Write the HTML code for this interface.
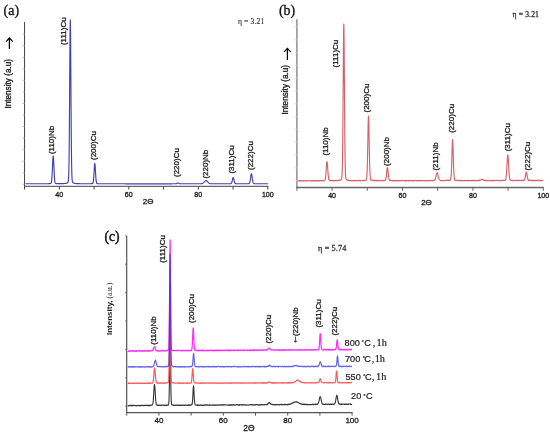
<!DOCTYPE html>
<html><head><meta charset="utf-8"><title>XRD patterns</title>
<style>
html,body{margin:0;padding:0;background:#fff;}
body{width:550px;height:435px;overflow:hidden;}
svg{display:block;}
</style></head>
<body>
<svg width="550" height="435" viewBox="0 0 550 435">
<rect width="550" height="435" fill="#fff"/>
<polyline points="25.55,183.79 25.80,183.79 26.05,183.79 26.30,183.79 26.55,183.79 26.80,183.79 27.05,183.79 27.30,183.79 27.55,183.79 27.80,183.79 28.05,183.79 28.30,183.79 28.55,183.79 28.80,183.79 29.05,183.79 29.30,183.79 29.55,183.79 29.80,183.79 30.05,183.79 30.30,183.79 30.55,183.79 30.80,183.79 31.05,183.79 31.30,183.79 31.55,183.79 31.80,183.79 32.05,183.79 32.30,183.79 32.55,183.79 32.80,183.79 33.05,183.79 33.30,183.79 33.55,183.79 33.80,183.79 34.05,183.79 34.30,183.79 34.55,183.79 34.80,183.79 35.05,183.79 35.30,183.79 35.55,183.79 35.80,183.79 36.05,183.79 36.30,183.79 36.55,183.78 36.80,183.78 37.05,183.78 37.30,183.78 37.55,183.78 37.80,183.78 38.05,183.78 38.30,183.78 38.55,183.78 38.80,183.78 39.05,183.78 39.30,183.78 39.55,183.78 39.80,183.78 40.05,183.78 40.30,183.78 40.55,183.78 40.80,183.78 41.05,183.78 41.30,183.78 41.55,183.77 41.80,183.77 42.05,183.77 42.30,183.77 42.55,183.77 42.80,183.77 43.05,183.77 43.30,183.77 43.55,183.77 43.80,183.76 44.05,183.76 44.30,183.76 44.55,183.76 44.80,183.76 45.05,183.76 45.30,183.75 45.55,183.75 45.80,183.75 46.05,183.75 46.30,183.74 46.55,183.74 46.80,183.74 47.05,183.73 47.30,183.73 47.55,183.72 47.80,183.72 48.05,183.71 48.30,183.70 48.55,183.69 48.80,183.68 49.05,183.67 49.30,183.65 49.55,183.64 49.80,183.61 50.05,183.59 50.30,183.55 50.55,183.49 50.80,183.37 51.05,183.10 51.30,182.53 51.55,181.36 51.80,179.21 52.05,175.76 52.30,170.96 52.55,165.34 52.80,160.04 53.05,156.59 53.20,155.97 53.30,156.25 53.55,159.15 53.80,164.20 54.05,169.87 54.30,174.89 54.55,178.62 54.80,181.01 55.05,182.34 55.30,183.01 55.55,183.31 55.80,183.45 56.05,183.52 56.30,183.56 56.55,183.58 56.80,183.60 57.05,183.62 57.30,183.63 57.55,183.64 57.80,183.65 58.05,183.66 58.30,183.66 58.55,183.67 58.80,183.67 59.05,183.67 59.30,183.68 59.55,183.68 59.80,183.68 60.05,183.68 60.30,183.67 60.55,183.67 60.80,183.67 61.05,183.67 61.30,183.66 61.55,183.66 61.80,183.65 62.05,183.65 62.30,183.64 62.55,183.63 62.80,183.63 63.05,183.62 63.30,183.61 63.55,183.59 63.80,183.58 64.05,183.56 64.30,183.55 64.55,183.53 64.80,183.50 65.05,183.48 65.30,183.45 65.55,183.41 65.80,183.37 66.05,183.32 66.30,183.27 66.55,183.20 66.80,183.11 67.05,183.01 67.30,182.88 67.55,182.72 67.80,182.48 68.05,182.06 68.30,181.13 68.55,178.79 68.80,173.10 69.05,160.87 69.30,138.69 69.55,105.62 69.80,66.60 70.05,33.30 70.30,19.89 70.55,33.30 70.80,66.60 71.05,105.62 71.30,138.69 71.55,160.87 71.80,173.10 72.05,178.79 72.30,181.13 72.55,182.06 72.80,182.48 73.05,182.72 73.30,182.89 73.55,183.02 73.80,183.12 74.05,183.20 74.30,183.27 74.55,183.33 74.80,183.38 75.05,183.42 75.30,183.45 75.55,183.49 75.80,183.51 76.05,183.54 76.30,183.56 76.55,183.57 76.80,183.59 77.05,183.61 77.30,183.62 77.55,183.63 77.80,183.64 78.05,183.65 78.30,183.66 78.55,183.67 78.80,183.67 79.05,183.68 79.30,183.69 79.55,183.69 79.80,183.70 80.05,183.70 80.30,183.71 80.55,183.71 80.80,183.71 81.05,183.72 81.30,183.72 81.55,183.72 81.80,183.72 82.05,183.73 82.30,183.73 82.55,183.73 82.80,183.73 83.05,183.74 83.30,183.74 83.55,183.74 83.80,183.74 84.05,183.74 84.30,183.74 84.55,183.74 84.80,183.74 85.05,183.74 85.30,183.75 85.55,183.75 85.80,183.75 86.05,183.75 86.30,183.75 86.55,183.75 86.80,183.75 87.05,183.75 87.30,183.75 87.55,183.74 87.80,183.74 88.05,183.74 88.30,183.74 88.55,183.74 88.80,183.74 89.05,183.73 89.30,183.73 89.55,183.73 89.80,183.72 90.05,183.72 90.30,183.71 90.55,183.71 90.80,183.70 91.05,183.69 91.30,183.68 91.55,183.66 91.80,183.64 92.05,183.62 92.30,183.57 92.55,183.47 92.80,183.26 93.05,182.76 93.30,181.72 93.55,179.79 93.80,176.74 94.05,172.66 94.30,168.24 94.55,164.67 94.80,163.28 95.05,164.67 95.30,168.24 95.55,172.66 95.80,176.74 96.05,179.79 96.30,181.72 96.55,182.76 96.80,183.26 97.05,183.48 97.30,183.58 97.55,183.62 97.80,183.65 98.05,183.67 98.30,183.69 98.55,183.70 98.80,183.71 99.05,183.72 99.30,183.73 99.55,183.73 99.80,183.74 100.05,183.74 100.30,183.75 100.55,183.75 100.80,183.75 101.05,183.76 101.30,183.76 101.55,183.76 101.80,183.76 102.05,183.77 102.30,183.77 102.55,183.77 102.80,183.77 103.05,183.77 103.30,183.77 103.55,183.77 103.80,183.78 104.05,183.78 104.30,183.78 104.55,183.78 104.80,183.78 105.05,183.78 105.30,183.78 105.55,183.78 105.80,183.78 106.05,183.78 106.30,183.78 106.55,183.78 106.80,183.78 107.05,183.78 107.30,183.78 107.55,183.78 107.80,183.79 108.05,183.79 108.30,183.79 108.55,183.79 108.80,183.79 109.05,183.79 109.30,183.79 109.55,183.79 109.80,183.79 110.05,183.79 110.30,183.79 110.55,183.79 110.80,183.79 111.05,183.79 111.30,183.79 111.55,183.79 111.80,183.79 112.05,183.79 112.30,183.79 112.55,183.79 112.80,183.79 113.05,183.79 113.30,183.79 113.55,183.79 113.80,183.79 114.05,183.79 114.30,183.79 114.55,183.79 114.80,183.79 115.05,183.79 115.30,183.79 115.55,183.79 115.80,183.79 116.05,183.79 116.30,183.79 116.55,183.79 116.80,183.79 117.05,183.79 117.30,183.79 117.55,183.79 117.80,183.79 118.05,183.79 118.30,183.79 118.55,183.79 118.80,183.79 119.05,183.79 119.30,183.79 119.55,183.79 119.80,183.79 120.05,183.79 120.30,183.79 120.55,183.79 120.80,183.79 121.05,183.79 121.30,183.79 121.55,183.79 121.80,183.79 122.05,183.79 122.30,183.79 122.55,183.79 122.80,183.79 123.05,183.79 123.30,183.79 123.55,183.79 123.80,183.79 124.05,183.79 124.30,183.79 124.55,183.79 124.80,183.79 125.05,183.79 125.30,183.80 125.55,183.80 125.80,183.80 126.05,183.80 126.30,183.80 126.55,183.80 126.80,183.80 127.05,183.80 127.30,183.80 127.55,183.80 127.80,183.80 128.05,183.80 128.30,183.80 128.55,183.80 128.80,183.80 129.05,183.80 129.30,183.80 129.55,183.80 129.80,183.80 130.05,183.80 130.30,183.80 130.55,183.80 130.80,183.80 131.05,183.80 131.30,183.80 131.55,183.80 131.80,183.80 132.05,183.80 132.30,183.80 132.55,183.80 132.80,183.80 133.05,183.80 133.30,183.80 133.55,183.80 133.80,183.80 134.05,183.80 134.30,183.80 134.55,183.80 134.80,183.80 135.05,183.80 135.30,183.80 135.55,183.80 135.80,183.80 136.05,183.80 136.30,183.80 136.55,183.80 136.80,183.80 137.05,183.80 137.30,183.80 137.55,183.80 137.80,183.80 138.05,183.80 138.30,183.80 138.55,183.80 138.80,183.80 139.05,183.80 139.30,183.80 139.55,183.80 139.80,183.80 140.05,183.80 140.30,183.80 140.55,183.80 140.80,183.80 141.05,183.80 141.30,183.80 141.55,183.80 141.80,183.80 142.05,183.80 142.30,183.80 142.55,183.80 142.80,183.80 143.05,183.80 143.30,183.80 143.55,183.80 143.80,183.80 144.05,183.80 144.30,183.80 144.55,183.80 144.80,183.80 145.05,183.80 145.30,183.80 145.55,183.80 145.80,183.80 146.05,183.80 146.30,183.80 146.55,183.80 146.80,183.80 147.05,183.80 147.30,183.80 147.55,183.80 147.80,183.80 148.05,183.80 148.30,183.80 148.55,183.80 148.80,183.80 149.05,183.80 149.30,183.80 149.55,183.80 149.80,183.80 150.05,183.80 150.30,183.80 150.55,183.80 150.80,183.80 151.05,183.80 151.30,183.80 151.55,183.80 151.80,183.80 152.05,183.80 152.30,183.80 152.55,183.80 152.80,183.80 153.05,183.80 153.30,183.80 153.55,183.80 153.80,183.80 154.05,183.80 154.30,183.80 154.55,183.80 154.80,183.80 155.05,183.80 155.30,183.80 155.55,183.80 155.80,183.80 156.05,183.80 156.30,183.80 156.55,183.80 156.80,183.80 157.05,183.80 157.30,183.80 157.55,183.80 157.80,183.80 158.05,183.80 158.30,183.80 158.55,183.80 158.80,183.80 159.05,183.80 159.30,183.80 159.55,183.80 159.80,183.80 160.05,183.80 160.30,183.80 160.55,183.80 160.80,183.80 161.05,183.80 161.30,183.80 161.55,183.80 161.80,183.80 162.05,183.80 162.30,183.80 162.55,183.80 162.80,183.80 163.05,183.80 163.30,183.80 163.55,183.80 163.80,183.80 164.05,183.80 164.30,183.80 164.55,183.80 164.80,183.80 165.05,183.80 165.30,183.80 165.55,183.80 165.80,183.80 166.05,183.80 166.30,183.80 166.55,183.80 166.80,183.80 167.05,183.80 167.30,183.80 167.55,183.80 167.80,183.80 168.05,183.80 168.30,183.80 168.55,183.80 168.80,183.80 169.05,183.80 169.30,183.80 169.55,183.80 169.80,183.80 170.05,183.80 170.30,183.80 170.55,183.80 170.80,183.80 171.05,183.80 171.30,183.80 171.55,183.80 171.80,183.80 172.05,183.80 172.30,183.80 172.55,183.79 172.80,183.79 173.05,183.79 173.30,183.79 173.55,183.79 173.80,183.79 174.05,183.79 174.30,183.79 174.55,183.79 174.80,183.79 175.05,183.79 175.30,183.78 175.55,183.77 175.80,183.76 176.05,183.73 176.30,183.68 176.55,183.60 176.80,183.50 177.05,183.37 177.30,183.23 177.55,183.10 177.80,183.02 178.00,183.00 178.05,183.00 178.30,183.05 178.55,183.15 178.80,183.29 179.05,183.42 179.30,183.54 179.55,183.64 179.80,183.70 180.05,183.74 180.30,183.77 180.55,183.78 180.80,183.78 181.05,183.79 181.30,183.79 181.55,183.79 181.80,183.79 182.05,183.79 182.30,183.79 182.55,183.79 182.80,183.79 183.05,183.79 183.30,183.79 183.55,183.79 183.80,183.79 184.05,183.79 184.30,183.79 184.55,183.79 184.80,183.79 185.05,183.79 185.30,183.79 185.55,183.79 185.80,183.79 186.05,183.79 186.30,183.79 186.55,183.79 186.80,183.79 187.05,183.79 187.30,183.79 187.55,183.79 187.80,183.79 188.05,183.79 188.30,183.79 188.55,183.79 188.80,183.79 189.05,183.79 189.30,183.79 189.55,183.79 189.80,183.79 190.05,183.79 190.30,183.79 190.55,183.79 190.80,183.79 191.05,183.79 191.30,183.79 191.55,183.79 191.80,183.79 192.05,183.79 192.30,183.79 192.55,183.79 192.80,183.79 193.05,183.79 193.30,183.79 193.55,183.79 193.80,183.79 194.05,183.79 194.30,183.79 194.55,183.79 194.80,183.79 195.05,183.79 195.30,183.79 195.55,183.79 195.80,183.79 196.05,183.79 196.30,183.79 196.55,183.78 196.80,183.78 197.05,183.78 197.30,183.78 197.55,183.78 197.80,183.78 198.05,183.78 198.30,183.78 198.55,183.78 198.80,183.77 199.05,183.77 199.30,183.77 199.55,183.77 199.80,183.76 200.05,183.76 200.30,183.75 200.55,183.74 200.80,183.73 201.05,183.71 201.30,183.69 201.55,183.65 201.80,183.60 202.05,183.54 202.30,183.46 202.55,183.35 202.80,183.22 203.05,183.06 203.30,182.87 203.55,182.65 203.80,182.41 204.05,182.14 204.30,181.87 204.55,181.59 204.80,181.32 205.05,181.07 205.30,180.87 205.55,180.71 205.80,180.62 206.00,180.60 206.05,180.60 206.30,180.65 206.55,180.77 206.80,180.94 207.05,181.17 207.30,181.42 207.55,181.70 207.80,181.98 208.05,182.25 208.30,182.51 208.55,182.74 208.80,182.95 209.05,183.13 209.30,183.28 209.55,183.40 209.80,183.49 210.05,183.57 210.30,183.62 210.55,183.67 210.80,183.70 211.05,183.72 211.30,183.74 211.55,183.75 211.80,183.76 212.05,183.76 212.30,183.77 212.55,183.77 212.80,183.77 213.05,183.77 213.30,183.77 213.55,183.78 213.80,183.78 214.05,183.78 214.30,183.78 214.55,183.78 214.80,183.78 215.05,183.78 215.30,183.78 215.55,183.78 215.80,183.78 216.05,183.78 216.30,183.79 216.55,183.79 216.80,183.79 217.05,183.79 217.30,183.79 217.55,183.79 217.80,183.79 218.05,183.79 218.30,183.79 218.55,183.79 218.80,183.79 219.05,183.79 219.30,183.79 219.55,183.79 219.80,183.79 220.05,183.79 220.30,183.79 220.55,183.79 220.80,183.79 221.05,183.79 221.30,183.79 221.55,183.79 221.80,183.79 222.05,183.79 222.30,183.79 222.55,183.79 222.80,183.79 223.05,183.79 223.30,183.79 223.55,183.79 223.80,183.79 224.05,183.79 224.30,183.79 224.55,183.79 224.80,183.79 225.05,183.79 225.30,183.79 225.55,183.79 225.80,183.78 226.05,183.78 226.30,183.78 226.55,183.78 226.80,183.78 227.05,183.78 227.30,183.78 227.55,183.78 227.80,183.78 228.05,183.77 228.30,183.77 228.55,183.77 228.80,183.77 229.05,183.76 229.30,183.76 229.55,183.76 229.80,183.75 230.05,183.74 230.30,183.73 230.55,183.70 230.80,183.64 231.05,183.53 231.30,183.32 231.55,182.95 231.80,182.36 232.05,181.52 232.30,180.47 232.55,179.34 232.80,178.33 233.05,177.71 233.20,177.60 233.30,177.64 233.55,178.17 233.80,179.12 234.05,180.25 234.30,181.33 234.55,182.21 234.80,182.85 235.05,183.26 235.30,183.50 235.55,183.63 235.80,183.69 236.05,183.72 236.30,183.74 236.55,183.75 236.80,183.75 237.05,183.76 237.30,183.76 237.55,183.77 237.80,183.77 238.05,183.77 238.30,183.77 238.55,183.77 238.80,183.78 239.05,183.78 239.30,183.78 239.55,183.78 239.80,183.78 240.05,183.78 240.30,183.78 240.55,183.78 240.80,183.78 241.05,183.78 241.30,183.78 241.55,183.78 241.80,183.78 242.05,183.78 242.30,183.78 242.55,183.78 242.80,183.78 243.05,183.78 243.30,183.78 243.55,183.78 243.80,183.78 244.05,183.78 244.30,183.78 244.55,183.78 244.80,183.77 245.05,183.77 245.30,183.77 245.55,183.77 245.80,183.77 246.05,183.76 246.30,183.76 246.55,183.76 246.80,183.75 247.05,183.75 247.30,183.74 247.55,183.74 247.80,183.73 248.05,183.72 248.30,183.70 248.55,183.68 248.80,183.63 249.05,183.52 249.30,183.31 249.55,182.92 249.80,182.25 250.05,181.19 250.30,179.74 250.55,177.96 250.80,176.11 251.05,174.54 251.30,173.68 251.40,173.60 251.55,173.78 251.80,174.81 252.05,176.47 252.30,178.33 252.55,180.06 252.80,181.44 253.05,182.41 253.30,183.02 253.55,183.37 253.80,183.55 254.05,183.64 254.30,183.68 254.55,183.71 254.80,183.72 255.05,183.73 255.30,183.74 255.55,183.75 255.80,183.75 256.05,183.76 256.30,183.76 256.55,183.76 256.80,183.77 257.05,183.77 257.30,183.77 257.55,183.77 257.80,183.78 258.05,183.78 258.30,183.78 258.55,183.78 258.80,183.78 259.05,183.78 259.30,183.78 259.55,183.78 259.80,183.79 260.05,183.79 260.30,183.79 260.55,183.79 260.80,183.79 261.05,183.79 261.30,183.79 261.55,183.79 261.80,183.79 262.05,183.79 262.30,183.79 262.55,183.79 262.80,183.79 263.05,183.79 263.30,183.79 263.55,183.79 263.80,183.79 264.05,183.79 264.30,183.79 264.55,183.79 264.80,183.79 265.05,183.79 265.30,183.79 265.55,183.79 265.80,183.79 266.05,183.79 266.30,183.79 266.55,183.79 266.80,183.79 267.05,183.80 267.30,183.80 267.55,183.80 267.80,183.80" fill="none" stroke="#4040b4" stroke-width="1.15" stroke-linejoin="round" />
<line x1="24.55" y1="22" x2="24.55" y2="186.8" stroke="#444" stroke-width="1"/>
<line x1="24.05" y1="186.3" x2="268.3" y2="186.3" stroke="#444" stroke-width="1"/>
<line x1="24.55" y1="186.3" x2="24.55" y2="189.5" stroke="#444" stroke-width="1"/>
<line x1="59.3" y1="186.3" x2="59.3" y2="189.5" stroke="#444" stroke-width="1"/>
<line x1="94.05" y1="186.3" x2="94.05" y2="189.5" stroke="#444" stroke-width="1"/>
<line x1="128.8" y1="186.3" x2="128.8" y2="189.5" stroke="#444" stroke-width="1"/>
<line x1="163.55" y1="186.3" x2="163.55" y2="189.5" stroke="#444" stroke-width="1"/>
<line x1="198.3" y1="186.3" x2="198.3" y2="189.5" stroke="#444" stroke-width="1"/>
<line x1="233.05" y1="186.3" x2="233.05" y2="189.5" stroke="#444" stroke-width="1"/>
<line x1="267.8" y1="186.3" x2="267.8" y2="189.5" stroke="#444" stroke-width="1"/>
<line x1="22.55" y1="184.3" x2="24.55" y2="184.3" stroke="#aaa" stroke-width="0.8"/>
<line x1="22.55" y1="172.75" x2="24.55" y2="172.75" stroke="#aaa" stroke-width="0.8"/>
<line x1="22.55" y1="161.20000000000002" x2="24.55" y2="161.20000000000002" stroke="#aaa" stroke-width="0.8"/>
<line x1="22.55" y1="149.65" x2="24.55" y2="149.65" stroke="#aaa" stroke-width="0.8"/>
<line x1="22.55" y1="138.10000000000002" x2="24.55" y2="138.10000000000002" stroke="#aaa" stroke-width="0.8"/>
<line x1="22.55" y1="126.55000000000001" x2="24.55" y2="126.55000000000001" stroke="#aaa" stroke-width="0.8"/>
<line x1="22.55" y1="115.0" x2="24.55" y2="115.0" stroke="#aaa" stroke-width="0.8"/>
<line x1="22.55" y1="103.45" x2="24.55" y2="103.45" stroke="#aaa" stroke-width="0.8"/>
<line x1="22.55" y1="91.9" x2="24.55" y2="91.9" stroke="#aaa" stroke-width="0.8"/>
<line x1="22.55" y1="80.35000000000001" x2="24.55" y2="80.35000000000001" stroke="#aaa" stroke-width="0.8"/>
<line x1="22.55" y1="68.80000000000001" x2="24.55" y2="68.80000000000001" stroke="#aaa" stroke-width="0.8"/>
<line x1="22.55" y1="57.25" x2="24.55" y2="57.25" stroke="#aaa" stroke-width="0.8"/>
<line x1="22.55" y1="45.69999999999999" x2="24.55" y2="45.69999999999999" stroke="#aaa" stroke-width="0.8"/>
<line x1="22.55" y1="34.150000000000006" x2="24.55" y2="34.150000000000006" stroke="#aaa" stroke-width="0.8"/>
<text x="59.3" y="196.9" font-family="'Liberation Sans', Arial, sans-serif" font-size="7.1" text-anchor="middle" fill="#1a1a1a" font-weight="normal" stroke="#1a1a1a" stroke-width="0.3" >40</text>
<text x="128.8" y="196.9" font-family="'Liberation Sans', Arial, sans-serif" font-size="7.1" text-anchor="middle" fill="#1a1a1a" font-weight="normal" stroke="#1a1a1a" stroke-width="0.3" >60</text>
<text x="198.3" y="196.9" font-family="'Liberation Sans', Arial, sans-serif" font-size="7.1" text-anchor="middle" fill="#1a1a1a" font-weight="normal" stroke="#1a1a1a" stroke-width="0.3" >80</text>
<text x="267.8" y="196.9" font-family="'Liberation Sans', Arial, sans-serif" font-size="7.1" text-anchor="middle" fill="#1a1a1a" font-weight="normal" stroke="#1a1a1a" stroke-width="0.3" >100</text>
<text x="148.2" y="203.6" font-family="'Liberation Sans', Arial, sans-serif" font-size="8.0" text-anchor="middle" fill="#1a1a1a" font-weight="normal" stroke="#1a1a1a" stroke-width="0.3" >2Θ</text>
<text x="11.3" y="15.4" font-family="'Liberation Serif', 'Times New Roman', serif" font-size="14" text-anchor="middle" fill="#111" font-weight="normal" stroke="#111" stroke-width="0.3" >(a)</text>
<text x="251.2" y="23.7" font-family="'Liberation Serif', 'Times New Roman', serif" font-size="7.6" text-anchor="middle" fill="#333" font-weight="normal" stroke="#333" stroke-width="0.15" letter-spacing="0.15">η = 3.21</text>
<text transform="translate(10.99,108.60) rotate(-90)" font-family="'Liberation Sans', Arial, sans-serif" font-size="8.2" fill="#1a1a1a" font-weight="normal" stroke="#1a1a1a" stroke-width="0.3">Intensity (a.u)</text>
<path d="M9.4,38.2 V48.9 M6.1,41.6 L9.4,37.9 L12.7,41.6" fill="none" stroke="#000" stroke-width="1.25"/>
<text transform="translate(53.96,154.10) rotate(-90)" font-family="'Liberation Sans', Arial, sans-serif" font-size="8.0" fill="#1a1a1a" font-weight="normal" stroke="#1a1a1a" stroke-width="0.3">(110)Nb</text>
<text transform="translate(66.16,45.10) rotate(-90)" font-family="'Liberation Sans', Arial, sans-serif" font-size="8.0" fill="#1a1a1a" font-weight="normal" stroke="#1a1a1a" stroke-width="0.3">(111)Cu</text>
<text transform="translate(96.46,160.00) rotate(-90)" font-family="'Liberation Sans', Arial, sans-serif" font-size="8.0" fill="#1a1a1a" font-weight="normal" stroke="#1a1a1a" stroke-width="0.3">(200)Cu</text>
<text transform="translate(179.36,177.00) rotate(-90)" font-family="'Liberation Sans', Arial, sans-serif" font-size="8.0" fill="#1a1a1a" font-weight="normal" stroke="#1a1a1a" stroke-width="0.3">(220)Cu</text>
<text transform="translate(208.36,178.60) rotate(-90)" font-family="'Liberation Sans', Arial, sans-serif" font-size="8.0" fill="#1a1a1a" font-weight="normal" stroke="#1a1a1a" stroke-width="0.3">(220)Nb</text>
<text transform="translate(233.96,173.60) rotate(-90)" font-family="'Liberation Sans', Arial, sans-serif" font-size="8.0" fill="#1a1a1a" font-weight="normal" stroke="#1a1a1a" stroke-width="0.3">(311)Cu</text>
<text transform="translate(253.36,170.00) rotate(-90)" font-family="'Liberation Sans', Arial, sans-serif" font-size="8.0" fill="#1a1a1a" font-weight="normal" stroke="#1a1a1a" stroke-width="0.3">(222)Cu</text>
<polyline points="297.90,180.66 298.15,180.81 298.40,180.73 298.65,180.84 298.90,180.85 299.15,180.57 299.40,180.55 299.65,180.96 299.90,180.67 300.15,180.66 300.40,181.04 300.65,180.77 300.90,180.96 301.15,180.78 301.40,180.86 301.65,180.61 301.90,180.85 302.15,180.97 302.40,180.80 302.65,180.91 302.90,180.87 303.15,180.57 303.40,180.91 303.65,180.83 303.90,180.68 304.15,180.55 304.40,180.96 304.65,180.77 304.90,180.89 305.15,180.97 305.40,180.89 305.65,180.99 305.90,180.73 306.15,180.93 306.40,180.75 306.65,181.00 306.90,180.97 307.15,180.58 307.40,180.59 307.65,180.63 307.90,181.01 308.15,180.74 308.40,180.84 308.65,180.67 308.90,180.78 309.15,180.72 309.40,180.70 309.65,180.81 309.90,180.81 310.15,180.97 310.40,180.86 310.65,180.98 310.90,180.95 311.15,181.01 311.40,180.85 311.65,180.60 311.90,180.95 312.15,181.00 312.40,180.97 312.65,180.80 312.90,180.87 313.15,180.62 313.40,180.93 313.65,180.80 313.90,180.65 314.15,180.54 314.40,180.94 314.65,181.00 314.90,180.55 315.15,180.91 315.40,180.71 315.65,180.58 315.90,180.65 316.15,180.89 316.40,180.94 316.65,180.52 316.90,180.80 317.15,180.52 317.40,180.85 317.65,180.66 317.90,180.93 318.15,180.98 318.40,180.74 318.65,180.99 318.90,180.64 319.15,180.52 319.40,180.78 319.65,180.49 319.90,180.57 320.15,180.68 320.40,180.77 320.65,180.54 320.90,180.48 321.15,180.89 321.40,180.61 321.65,180.93 321.90,180.89 322.15,180.62 322.40,180.66 322.65,180.68 322.90,180.73 323.15,180.70 323.40,180.66 323.65,180.68 323.90,180.81 324.15,180.56 324.40,180.45 324.65,180.46 324.90,179.92 325.15,179.36 325.40,178.61 325.65,176.58 325.90,173.94 326.15,170.29 326.40,166.84 326.65,163.76 326.90,161.69 327.00,161.82 327.15,162.21 327.40,164.04 327.65,167.65 327.90,171.23 328.15,174.59 328.40,176.90 328.65,178.73 328.90,179.71 329.15,179.87 329.40,180.14 329.65,180.56 329.90,180.76 330.15,180.44 330.40,180.56 330.65,180.64 330.90,180.52 331.15,180.55 331.40,180.53 331.65,180.56 331.90,180.68 332.15,180.53 332.40,180.57 332.65,180.77 332.90,180.40 333.15,180.67 333.40,180.75 333.65,180.54 333.90,180.49 334.15,180.78 334.40,180.49 334.65,180.46 334.90,180.58 335.15,180.71 335.40,180.40 335.65,180.51 335.90,180.51 336.15,180.75 336.40,180.54 336.65,180.74 336.90,180.38 337.15,180.45 337.40,180.60 337.65,180.70 337.90,180.46 338.15,180.32 338.40,180.25 338.65,180.42 338.90,180.22 339.15,180.49 339.40,180.46 339.65,180.08 339.90,180.06 340.15,180.25 340.40,180.08 340.65,180.04 340.90,179.67 341.15,179.36 341.40,179.12 341.65,178.70 341.90,176.85 342.15,173.04 342.40,164.58 342.65,148.34 342.90,122.23 343.15,88.12 343.40,52.45 343.65,28.10 343.80,24.11 343.90,26.08 344.15,46.71 344.40,80.55 344.65,116.14 344.90,144.18 345.15,161.95 345.40,172.00 345.65,176.60 345.90,178.42 346.15,179.13 346.40,179.38 346.65,179.62 346.90,179.72 347.15,179.76 347.40,180.12 347.65,180.04 347.90,180.37 348.15,180.04 348.40,180.52 348.65,180.45 348.90,180.60 349.15,180.62 349.40,180.64 349.65,180.51 349.90,180.24 350.15,180.63 350.40,180.36 350.65,180.43 350.90,180.63 351.15,180.57 351.40,180.52 351.65,180.79 351.90,180.64 352.15,180.51 352.40,180.47 352.65,180.78 352.90,180.59 353.15,180.75 353.40,180.54 353.65,180.47 353.90,180.64 354.15,180.78 354.40,180.46 354.65,180.78 354.90,180.84 355.15,180.79 355.40,180.80 355.65,180.39 355.90,180.70 356.15,180.82 356.40,180.42 356.65,180.53 356.90,180.53 357.15,180.66 357.40,180.60 357.65,180.63 357.90,180.78 358.15,180.39 358.40,180.42 358.65,180.45 358.90,180.45 359.15,180.42 359.40,180.87 359.65,180.81 359.90,180.42 360.15,180.63 360.40,180.53 360.65,180.53 360.90,180.54 361.15,180.69 361.40,180.65 361.65,180.53 361.90,180.44 362.15,180.50 362.40,180.39 362.65,180.60 362.90,180.67 363.15,180.49 363.40,180.33 363.65,180.36 363.90,180.44 364.15,180.53 364.40,180.60 364.65,180.37 364.90,180.54 365.15,180.41 365.40,180.25 365.65,180.15 365.90,180.09 366.15,179.97 366.40,179.34 366.65,178.33 366.90,175.73 367.15,170.76 367.40,162.71 367.65,151.03 367.90,136.77 368.15,124.05 368.40,116.47 368.50,115.97 368.65,117.63 368.90,126.31 369.15,140.01 369.40,153.68 369.65,164.51 369.90,172.08 370.15,176.21 370.40,178.70 370.65,179.59 370.90,180.12 371.15,180.27 371.40,180.31 371.65,180.41 371.90,180.38 372.15,180.20 372.40,180.47 372.65,180.21 372.90,180.31 373.15,180.64 373.40,180.29 373.65,180.33 373.90,180.35 374.15,180.75 374.40,180.41 374.65,180.34 374.90,180.76 375.15,180.41 375.40,180.77 375.65,180.69 375.90,180.78 376.15,180.84 376.40,180.66 376.65,180.77 376.90,180.39 377.15,180.76 377.40,180.64 377.65,180.74 377.90,180.44 378.15,180.76 378.40,180.85 378.65,180.42 378.90,180.55 379.15,180.67 379.40,180.80 379.65,180.51 379.90,180.48 380.15,180.52 380.40,180.70 380.65,180.77 380.90,180.59 381.15,180.57 381.40,180.58 381.65,180.56 381.90,180.59 382.15,180.42 382.40,180.63 382.65,180.86 382.90,180.58 383.15,180.74 383.40,180.44 383.65,180.69 383.90,180.72 384.15,180.66 384.40,180.57 384.65,180.52 384.90,180.54 385.15,180.54 385.40,179.90 385.65,179.35 385.90,178.75 386.15,177.37 386.40,175.13 386.65,172.65 386.90,170.35 387.15,168.23 387.40,167.57 387.65,168.23 387.90,170.28 388.15,172.59 388.40,174.99 388.65,177.25 388.90,178.85 389.15,179.45 389.40,180.18 389.65,180.30 389.90,180.64 390.15,180.57 390.40,180.44 390.65,180.44 390.90,180.35 391.15,180.59 391.40,180.55 391.65,180.45 391.90,180.55 392.15,180.54 392.40,180.77 392.65,180.46 392.90,180.88 393.15,180.63 393.40,180.69 393.65,180.63 393.90,180.81 394.15,180.81 394.40,180.68 394.65,180.64 394.90,180.76 395.15,180.83 395.40,180.60 395.65,180.77 395.90,180.89 396.15,180.64 396.40,180.52 396.65,180.52 396.90,180.77 397.15,180.75 397.40,180.89 397.65,180.83 397.90,180.53 398.15,180.50 398.40,180.54 398.65,180.50 398.90,180.76 399.15,180.84 399.40,180.86 399.65,180.54 399.90,180.84 400.15,180.57 400.40,180.62 400.65,180.77 400.90,180.45 401.15,180.46 401.40,180.83 401.65,180.55 401.90,180.59 402.15,180.70 402.40,180.75 402.65,180.41 402.90,180.58 403.15,180.63 403.40,180.65 403.65,180.51 403.90,180.70 404.15,180.89 404.40,180.60 404.65,180.68 404.90,180.47 405.15,180.54 405.40,180.74 405.65,180.46 405.90,180.85 406.15,180.86 406.40,180.45 406.65,180.88 406.90,180.59 407.15,180.79 407.40,180.78 407.65,180.55 407.90,180.74 408.15,180.73 408.40,180.81 408.65,180.54 408.90,180.78 409.15,180.88 409.40,180.74 409.65,180.67 409.90,180.46 410.15,180.65 410.40,180.58 410.65,180.76 410.90,180.74 411.15,180.68 411.40,180.49 411.65,180.72 411.90,180.72 412.15,180.49 412.40,180.85 412.65,180.73 412.90,180.46 413.15,180.87 413.40,180.47 413.65,180.56 413.90,180.76 414.15,180.70 414.40,180.68 414.65,180.72 414.90,180.63 415.15,180.55 415.40,180.48 415.65,180.43 415.90,180.75 416.15,180.77 416.40,180.67 416.65,180.76 416.90,180.57 417.15,180.53 417.40,180.59 417.65,180.83 417.90,180.41 418.15,180.64 418.40,180.52 418.65,180.78 418.90,180.57 419.15,180.56 419.40,180.59 419.65,180.66 419.90,180.78 420.15,180.57 420.40,180.81 420.65,180.44 420.90,180.52 421.15,180.44 421.40,180.44 421.65,180.78 421.90,180.75 422.15,180.48 422.40,180.48 422.65,180.59 422.90,180.76 423.15,180.79 423.40,180.76 423.65,180.68 423.90,180.46 424.15,180.58 424.40,180.48 424.65,180.64 424.90,180.66 425.15,180.48 425.40,180.50 425.65,180.77 425.90,180.39 426.15,180.78 426.40,180.82 426.65,180.85 426.90,180.56 427.15,180.65 427.40,180.66 427.65,180.69 427.90,180.86 428.15,180.71 428.40,180.52 428.65,180.80 428.90,180.61 429.15,180.66 429.40,180.72 429.65,180.36 429.90,180.74 430.15,180.69 430.40,180.60 430.65,180.61 430.90,180.58 431.15,180.44 431.40,180.61 431.65,180.36 431.90,180.59 432.15,180.65 432.40,180.55 432.65,180.60 432.90,180.79 433.15,180.75 433.40,180.35 433.65,180.66 433.90,180.53 434.15,180.17 434.40,180.20 434.65,179.92 434.90,179.51 435.15,179.24 435.40,178.74 435.65,177.54 435.90,176.74 436.15,175.48 436.40,174.05 436.65,173.45 436.90,172.70 437.10,172.70 437.15,172.60 437.40,172.96 437.65,173.54 437.90,174.83 438.15,176.06 438.40,177.18 438.65,177.97 438.90,178.95 439.15,179.43 439.40,179.67 439.65,179.91 439.90,180.10 440.15,180.26 440.40,180.30 440.65,180.50 440.90,180.62 441.15,180.55 441.40,180.50 441.65,180.62 441.90,180.45 442.15,180.54 442.40,180.68 442.65,180.51 442.90,180.40 443.15,180.76 443.40,180.67 443.65,180.49 443.90,180.50 444.15,180.57 444.40,180.61 444.65,180.42 444.90,180.31 445.15,180.41 445.40,180.69 445.65,180.37 445.90,180.52 446.15,180.39 446.40,180.39 446.65,180.37 446.90,180.48 447.15,180.35 447.40,180.27 447.65,180.30 447.90,180.32 448.15,180.47 448.40,180.24 448.65,180.20 448.90,180.40 449.15,180.35 449.40,180.46 449.65,180.10 449.90,180.21 450.15,180.10 450.40,179.69 450.65,179.65 450.90,178.11 451.15,175.67 451.40,171.59 451.65,164.88 451.90,156.69 452.15,147.85 452.40,141.31 452.60,139.47 452.65,139.92 452.90,143.50 453.15,151.43 453.40,160.13 453.65,168.16 453.90,173.47 454.15,176.89 454.40,178.71 454.65,179.83 454.90,180.10 455.15,180.12 455.40,180.08 455.65,180.43 455.90,180.61 456.15,180.45 456.40,180.18 456.65,180.21 456.90,180.26 457.15,180.31 457.40,180.26 457.65,180.28 457.90,180.58 458.15,180.72 458.40,180.37 458.65,180.76 458.90,180.52 459.15,180.69 459.40,180.75 459.65,180.76 459.90,180.32 460.15,180.45 460.40,180.61 460.65,180.78 460.90,180.35 461.15,180.46 461.40,180.74 461.65,180.37 461.90,180.51 462.15,180.48 462.40,180.66 462.65,180.78 462.90,180.41 463.15,180.69 463.40,180.69 463.65,180.74 463.90,180.60 464.15,180.78 464.40,180.50 464.65,180.53 464.90,180.44 465.15,180.71 465.40,180.56 465.65,180.46 465.90,180.41 466.15,180.69 466.40,180.63 466.65,180.68 466.90,180.52 467.15,180.57 467.40,180.40 467.65,180.68 467.90,180.34 468.15,180.56 468.40,180.70 468.65,180.66 468.90,180.37 469.15,180.44 469.40,180.75 469.65,180.65 469.90,180.76 470.15,180.76 470.40,180.55 470.65,180.77 470.90,180.69 471.15,180.49 471.40,180.51 471.65,180.36 471.90,180.52 472.15,180.80 472.40,180.38 472.65,180.61 472.90,180.38 473.15,180.36 473.40,180.65 473.65,180.44 473.90,180.35 474.15,180.40 474.40,180.64 474.65,180.61 474.90,180.32 475.15,180.43 475.40,180.80 475.65,180.43 475.90,180.60 476.15,180.52 476.40,180.70 476.65,180.62 476.90,180.71 477.15,180.58 477.40,180.40 477.65,180.39 477.90,180.34 478.15,180.70 478.40,180.34 478.65,180.27 478.90,180.72 479.15,180.30 479.40,180.59 479.65,180.12 479.90,180.21 480.15,179.98 480.40,180.15 480.65,179.90 480.90,179.77 481.15,179.68 481.40,179.62 481.65,179.26 481.90,179.35 482.00,179.26 482.15,179.11 482.40,179.52 482.65,179.50 482.90,179.73 483.15,179.57 483.40,179.89 483.65,179.99 483.90,180.25 484.15,180.03 484.40,180.26 484.65,180.39 484.90,180.24 485.15,180.51 485.40,180.63 485.65,180.49 485.90,180.61 486.15,180.59 486.40,180.40 486.65,180.47 486.90,180.80 487.15,180.47 487.40,180.51 487.65,180.34 487.90,180.41 488.15,180.38 488.40,180.77 488.65,180.66 488.90,180.74 489.15,180.79 489.40,180.61 489.65,180.77 489.90,180.57 490.15,180.51 490.40,180.77 490.65,180.75 490.90,180.77 491.15,180.54 491.40,180.68 491.65,180.50 491.90,180.80 492.15,180.76 492.40,180.44 492.65,180.76 492.90,180.39 493.15,180.34 493.40,180.66 493.65,180.44 493.90,180.55 494.15,180.61 494.40,180.31 494.65,180.66 494.90,180.43 495.15,180.51 495.40,180.46 495.65,180.66 495.90,180.66 496.15,180.43 496.40,180.34 496.65,180.43 496.90,180.49 497.15,180.32 497.40,180.36 497.65,180.66 497.90,180.63 498.15,180.76 498.40,180.76 498.65,180.71 498.90,180.46 499.15,180.35 499.40,180.42 499.65,180.50 499.90,180.53 500.15,180.53 500.40,180.44 500.65,180.68 500.90,180.39 501.15,180.48 501.40,180.69 501.65,180.64 501.90,180.38 502.15,180.35 502.40,180.62 502.65,180.22 502.90,180.27 503.15,180.46 503.40,180.45 503.65,180.25 503.90,180.18 504.15,180.23 504.40,180.49 504.65,180.30 504.90,180.50 505.15,180.29 505.40,180.16 505.65,179.23 505.90,178.43 506.15,176.81 506.40,174.58 506.65,171.06 506.90,166.58 507.15,162.13 507.40,157.75 507.65,155.26 507.80,154.77 507.90,155.25 508.15,157.23 508.40,161.08 508.65,165.64 508.90,170.29 509.15,174.06 509.40,176.73 509.65,178.54 509.90,179.47 510.15,179.72 510.40,179.92 510.65,180.36 510.90,180.44 511.15,180.34 511.40,180.53 511.65,180.41 511.90,180.29 512.15,180.25 512.40,180.19 512.65,180.51 512.90,180.64 513.15,180.66 513.40,180.44 513.65,180.55 513.90,180.68 514.15,180.63 514.40,180.53 514.65,180.44 514.90,180.49 515.15,180.32 515.40,180.33 515.65,180.58 515.90,180.74 516.15,180.52 516.40,180.45 516.65,180.42 516.90,180.47 517.15,180.65 517.40,180.47 517.65,180.73 517.90,180.32 518.15,180.40 518.40,180.51 518.65,180.45 518.90,180.67 519.15,180.66 519.40,180.71 519.65,180.55 519.90,180.26 520.15,180.53 520.40,180.52 520.65,180.48 520.90,180.38 521.15,180.59 521.40,180.69 521.65,180.28 521.90,180.56 522.15,180.41 522.40,180.47 522.65,180.66 522.90,180.68 523.15,180.51 523.40,180.27 523.65,180.60 523.90,180.15 524.15,180.11 524.40,180.05 524.65,179.30 524.90,178.50 525.15,177.73 525.40,176.33 525.65,174.51 525.90,173.22 526.15,172.33 526.30,172.11 526.40,172.23 526.65,173.29 526.90,174.10 527.15,175.67 527.40,177.09 527.65,178.20 527.90,179.27 528.15,179.93 528.40,180.29 528.65,180.36 528.90,180.53 529.15,180.17 529.40,180.33 529.65,180.68 529.90,180.24 530.15,180.35 530.40,180.46 530.65,180.36 530.90,180.50 531.15,180.25 531.40,180.35 531.65,180.71 531.90,180.31 532.15,180.69 532.40,180.33 532.65,180.74 532.90,180.58 533.15,180.57 533.40,180.31 533.65,180.27 533.90,180.62 534.15,180.33 534.40,180.34 534.65,180.66 534.90,180.68 535.15,180.27 535.40,180.73 535.65,180.51 535.90,180.44 536.15,180.30 536.40,180.44 536.65,180.74 536.90,180.39 537.15,180.31 537.40,180.32 537.65,180.31 537.90,180.42 538.15,180.70 538.40,180.29 538.65,180.34 538.90,180.72 539.15,180.75 539.40,180.74 539.65,180.37 539.90,180.42 540.15,180.72 540.40,180.49 540.65,180.60 540.90,180.40 541.15,180.26 541.40,180.42 541.65,180.62 541.90,180.64 542.15,180.53 542.40,180.48 542.65,180.51 542.90,180.47 543.15,180.51" fill="none" stroke="#d9606a" stroke-width="1.15" stroke-linejoin="round" />
<line x1="296.9" y1="19.2" x2="296.9" y2="188.0" stroke="#888" stroke-width="1.4"/>
<line x1="296.4" y1="187.5" x2="543.8" y2="187.5" stroke="#666" stroke-width="1.3"/>
<line x1="296.9" y1="187.5" x2="296.9" y2="190.7" stroke="#666" stroke-width="1"/>
<line x1="332.09999999999997" y1="187.5" x2="332.09999999999997" y2="190.7" stroke="#666" stroke-width="1"/>
<line x1="367.29999999999995" y1="187.5" x2="367.29999999999995" y2="190.7" stroke="#666" stroke-width="1"/>
<line x1="402.5" y1="187.5" x2="402.5" y2="190.7" stroke="#666" stroke-width="1"/>
<line x1="437.7" y1="187.5" x2="437.7" y2="190.7" stroke="#666" stroke-width="1"/>
<line x1="472.9" y1="187.5" x2="472.9" y2="190.7" stroke="#666" stroke-width="1"/>
<line x1="508.09999999999997" y1="187.5" x2="508.09999999999997" y2="190.7" stroke="#666" stroke-width="1"/>
<line x1="543.3" y1="187.5" x2="543.3" y2="190.7" stroke="#666" stroke-width="1"/>
<line x1="294.9" y1="180.6" x2="296.9" y2="180.6" stroke="#d0d0d0" stroke-width="0.8"/>
<line x1="294.9" y1="167.79999999999998" x2="296.9" y2="167.79999999999998" stroke="#d0d0d0" stroke-width="0.8"/>
<line x1="294.9" y1="155.0" x2="296.9" y2="155.0" stroke="#d0d0d0" stroke-width="0.8"/>
<line x1="294.9" y1="142.2" x2="296.9" y2="142.2" stroke="#d0d0d0" stroke-width="0.8"/>
<line x1="294.9" y1="129.39999999999998" x2="296.9" y2="129.39999999999998" stroke="#d0d0d0" stroke-width="0.8"/>
<line x1="294.9" y1="116.6" x2="296.9" y2="116.6" stroke="#d0d0d0" stroke-width="0.8"/>
<line x1="294.9" y1="103.79999999999998" x2="296.9" y2="103.79999999999998" stroke="#d0d0d0" stroke-width="0.8"/>
<line x1="294.9" y1="90.99999999999999" x2="296.9" y2="90.99999999999999" stroke="#d0d0d0" stroke-width="0.8"/>
<line x1="294.9" y1="78.19999999999999" x2="296.9" y2="78.19999999999999" stroke="#d0d0d0" stroke-width="0.8"/>
<line x1="294.9" y1="65.39999999999999" x2="296.9" y2="65.39999999999999" stroke="#d0d0d0" stroke-width="0.8"/>
<line x1="294.9" y1="52.599999999999994" x2="296.9" y2="52.599999999999994" stroke="#d0d0d0" stroke-width="0.8"/>
<line x1="294.9" y1="39.79999999999998" x2="296.9" y2="39.79999999999998" stroke="#d0d0d0" stroke-width="0.8"/>
<line x1="294.9" y1="26.99999999999997" x2="296.9" y2="26.99999999999997" stroke="#d0d0d0" stroke-width="0.8"/>
<text x="332.09999999999997" y="197.8" font-family="'Liberation Sans', Arial, sans-serif" font-size="7.1" text-anchor="middle" fill="#1a1a1a" font-weight="normal" stroke="#1a1a1a" stroke-width="0.3" >40</text>
<text x="402.5" y="197.8" font-family="'Liberation Sans', Arial, sans-serif" font-size="7.1" text-anchor="middle" fill="#1a1a1a" font-weight="normal" stroke="#1a1a1a" stroke-width="0.3" >60</text>
<text x="472.9" y="197.8" font-family="'Liberation Sans', Arial, sans-serif" font-size="7.1" text-anchor="middle" fill="#1a1a1a" font-weight="normal" stroke="#1a1a1a" stroke-width="0.3" >80</text>
<text x="543.3" y="197.8" font-family="'Liberation Sans', Arial, sans-serif" font-size="7.1" text-anchor="middle" fill="#1a1a1a" font-weight="normal" stroke="#1a1a1a" stroke-width="0.3" >100</text>
<text x="426.5" y="204.9" font-family="'Liberation Sans', Arial, sans-serif" font-size="8.0" text-anchor="middle" fill="#1a1a1a" font-weight="normal" stroke="#1a1a1a" stroke-width="0.3" >2Θ</text>
<text x="287.1" y="15.3" font-family="'Liberation Serif', 'Times New Roman', serif" font-size="14" text-anchor="middle" fill="#111" font-weight="normal" stroke="#111" stroke-width="0.3" >(b)</text>
<text x="525.8" y="16.8" font-family="'Liberation Serif', 'Times New Roman', serif" font-size="7.6" text-anchor="middle" fill="#333" font-weight="normal" stroke="#333" stroke-width="0.3" letter-spacing="0.15">η = 3.21</text>
<text transform="translate(288.19,114.50) rotate(-90)" font-family="'Liberation Sans', Arial, sans-serif" font-size="8.2" fill="#1a1a1a" font-weight="normal" stroke="#1a1a1a" stroke-width="0.3">Intensity (a.u)</text>
<path d="M287.4,48.8 V59.9 M284.2,51.9 L287.4,48.4 L290.7,51.9" fill="none" stroke="#000" stroke-width="1.25"/>
<text transform="translate(328.36,155.60) rotate(-90)" font-family="'Liberation Sans', Arial, sans-serif" font-size="8.0" fill="#1a1a1a" font-weight="normal" stroke="#1a1a1a" stroke-width="0.3">(110)Nb</text>
<text transform="translate(338.36,67.40) rotate(-90)" font-family="'Liberation Sans', Arial, sans-serif" font-size="8.0" fill="#1a1a1a" font-weight="normal" stroke="#1a1a1a" stroke-width="0.3">(111)Cu</text>
<text transform="translate(369.26,112.50) rotate(-90)" font-family="'Liberation Sans', Arial, sans-serif" font-size="8.0" fill="#1a1a1a" font-weight="normal" stroke="#1a1a1a" stroke-width="0.3">(200)Cu</text>
<text transform="translate(389.16,165.90) rotate(-90)" font-family="'Liberation Sans', Arial, sans-serif" font-size="8.0" fill="#1a1a1a" font-weight="normal" stroke="#1a1a1a" stroke-width="0.3">(200)Nb</text>
<text transform="translate(438.46,170.60) rotate(-90)" font-family="'Liberation Sans', Arial, sans-serif" font-size="8.0" fill="#1a1a1a" font-weight="normal" stroke="#1a1a1a" stroke-width="0.3">(211)Nb</text>
<text transform="translate(454.46,132.80) rotate(-90)" font-family="'Liberation Sans', Arial, sans-serif" font-size="8.0" fill="#1a1a1a" font-weight="normal" stroke="#1a1a1a" stroke-width="0.3">(220)Cu</text>
<text transform="translate(509.66,151.30) rotate(-90)" font-family="'Liberation Sans', Arial, sans-serif" font-size="8.0" fill="#1a1a1a" font-weight="normal" stroke="#1a1a1a" stroke-width="0.3">(311)Cu</text>
<text transform="translate(529.86,170.60) rotate(-90)" font-family="'Liberation Sans', Arial, sans-serif" font-size="8.0" fill="#1a1a1a" font-weight="normal" stroke="#1a1a1a" stroke-width="0.3">(222)Cu</text>
<polyline points="127.70,405.57 127.95,405.63 128.20,405.85 128.45,405.57 128.70,405.59 128.95,405.64 129.20,405.40 129.45,405.59 129.70,405.66 129.95,405.76 130.20,405.34 130.45,405.46 130.70,405.33 130.95,405.76 131.20,405.69 131.45,405.30 131.70,405.86 131.95,405.85 132.20,405.66 132.45,405.63 132.70,405.36 132.95,405.27 133.20,405.58 133.45,405.29 133.70,405.37 133.95,405.40 134.20,405.27 134.45,405.53 134.70,405.51 134.95,405.75 135.20,405.56 135.45,405.63 135.70,405.54 135.95,405.64 136.20,405.51 136.45,405.41 136.70,405.84 136.95,405.83 137.20,405.74 137.45,405.66 137.70,405.42 137.95,405.37 138.20,405.40 138.45,405.27 138.70,405.68 138.95,405.46 139.20,405.73 139.45,405.45 139.70,405.79 139.95,405.72 140.20,405.21 140.45,405.34 140.70,405.75 140.95,405.49 141.20,405.79 141.45,405.44 141.70,405.24 141.95,405.58 142.20,405.66 142.45,405.36 142.70,405.24 142.95,405.39 143.20,405.77 143.45,405.64 143.70,405.25 143.95,405.33 144.20,405.24 144.45,405.21 144.70,405.65 144.95,405.28 145.20,405.51 145.45,405.44 145.70,405.28 145.95,405.60 146.20,405.24 146.45,405.54 146.70,405.22 146.95,405.40 147.20,405.27 147.45,405.30 147.70,405.72 147.95,405.62 148.20,405.31 148.45,405.66 148.70,405.25 148.95,405.35 149.20,405.62 149.45,405.49 149.70,405.15 149.95,405.68 150.20,405.20 150.45,405.22 150.70,405.51 150.95,405.23 151.20,405.19 151.45,405.04 151.70,405.01 151.95,405.24 152.20,404.91 152.45,404.85 152.70,404.13 152.95,403.03 153.20,401.34 153.45,398.02 153.70,394.11 153.95,390.00 154.20,386.00 154.45,384.24 154.50,384.64 154.70,385.40 154.95,388.04 155.20,392.15 155.45,396.66 155.70,400.22 155.95,402.17 156.20,404.08 156.45,404.81 156.70,405.01 156.95,405.07 157.20,404.96 157.45,404.96 157.70,405.54 157.95,405.12 158.20,405.41 158.45,405.15 158.70,405.50 158.95,405.37 159.20,405.19 159.45,405.13 159.70,405.46 159.95,405.07 160.20,405.17 160.45,405.37 160.70,405.54 160.95,405.40 161.20,405.20 161.45,405.58 161.70,405.15 161.95,405.04 162.20,405.19 162.45,405.29 162.70,405.06 162.95,405.12 163.20,405.24 163.45,405.35 163.70,405.09 163.95,405.22 164.20,405.53 164.45,405.58 164.70,405.38 164.95,405.39 165.20,405.32 165.45,405.04 165.70,404.97 165.95,404.94 166.20,405.46 166.45,405.32 166.70,405.45 166.95,404.86 167.20,405.19 167.45,405.05 167.70,405.14 167.95,404.82 168.20,405.10 168.45,404.29 168.70,403.78 168.95,401.30 169.20,394.27 169.45,379.65 169.70,359.05 169.95,341.68 170.10,338.24 170.20,339.49 170.45,354.87 170.70,375.93 170.95,391.98 171.20,400.14 171.45,403.60 171.70,404.65 171.95,404.79 172.20,404.96 172.45,404.89 172.70,405.07 172.95,405.13 173.20,404.85 173.45,405.21 173.70,405.45 173.95,405.40 174.20,405.32 174.45,405.13 174.70,405.35 174.95,405.26 175.20,405.18 175.45,405.43 175.70,404.98 175.95,405.38 176.20,404.95 176.45,405.30 176.70,405.23 176.95,405.08 177.20,405.36 177.45,405.24 177.70,405.32 177.95,405.50 178.20,405.10 178.45,404.95 178.70,405.13 178.95,405.35 179.20,405.07 179.45,405.05 179.70,405.49 179.95,405.34 180.20,405.21 180.45,405.48 180.70,405.14 180.95,405.34 181.20,405.06 181.45,405.20 181.70,405.42 181.95,405.49 182.20,405.47 182.45,405.17 182.70,405.28 182.95,405.12 183.20,405.01 183.45,405.23 183.70,405.43 183.95,405.44 184.20,405.35 184.45,405.49 184.70,405.09 184.95,405.02 185.20,405.19 185.45,405.08 185.70,405.04 185.95,405.16 186.20,405.29 186.45,405.20 186.70,405.09 186.95,405.41 187.20,405.49 187.45,405.17 187.70,404.94 187.95,404.91 188.20,405.41 188.45,404.91 188.70,405.30 188.95,405.21 189.20,405.05 189.45,405.33 189.70,404.86 189.95,404.92 190.20,405.10 190.45,404.83 190.70,405.30 190.95,404.92 191.20,404.84 191.45,404.73 191.70,404.96 191.95,404.53 192.20,403.79 192.45,401.89 192.70,398.50 192.95,393.71 193.20,388.64 193.45,385.70 193.50,385.78 193.70,386.88 193.95,391.06 194.20,396.46 194.45,400.72 194.70,402.90 194.95,404.16 195.20,404.68 195.45,405.06 195.70,405.02 195.95,405.11 196.20,405.22 196.45,405.01 196.70,405.26 196.95,405.34 197.20,404.86 197.45,405.37 197.70,405.25 197.95,404.90 198.20,405.09 198.45,405.20 198.70,405.37 198.95,405.05 199.20,405.17 199.45,405.35 199.70,405.30 199.95,405.39 200.20,405.10 200.45,405.22 200.70,404.95 200.95,405.26 201.20,405.32 201.45,405.21 201.70,405.25 201.95,404.95 202.20,405.36 202.45,405.41 202.70,405.41 202.95,405.14 203.20,405.29 203.45,405.01 203.70,405.36 203.95,405.33 204.20,405.02 204.45,404.86 204.70,405.07 204.95,405.14 205.20,405.27 205.45,405.10 205.70,404.82 205.95,405.29 206.20,404.84 206.45,405.28 206.70,404.90 206.95,405.00 207.20,405.27 207.45,404.88 207.70,404.88 207.95,405.10 208.20,405.23 208.45,405.29 208.70,405.20 208.95,405.35 209.20,405.08 209.45,405.35 209.70,404.83 209.95,404.91 210.20,405.10 210.45,404.95 210.70,405.21 210.95,405.16 211.20,405.09 211.45,405.28 211.70,405.11 211.95,404.96 212.20,405.00 212.45,405.27 212.70,405.31 212.95,404.89 213.20,405.27 213.45,405.34 213.70,405.07 213.95,405.10 214.20,404.88 214.45,405.08 214.70,405.06 214.95,405.11 215.20,404.77 215.45,405.33 215.70,405.06 215.95,404.99 216.20,405.22 216.45,405.08 216.70,405.04 216.95,405.15 217.20,404.78 217.45,405.06 217.70,404.98 217.95,405.31 218.20,405.29 218.45,404.89 218.70,405.01 218.95,404.80 219.20,404.99 219.45,405.21 219.70,405.26 219.95,405.01 220.20,404.91 220.45,404.83 220.70,405.09 220.95,405.27 221.20,404.79 221.45,405.18 221.70,404.72 221.95,404.83 222.20,404.84 222.45,405.12 222.70,404.90 222.95,404.92 223.20,405.07 223.45,404.76 223.70,405.14 223.95,404.77 224.20,405.00 224.45,404.84 224.70,404.81 224.95,405.01 225.20,404.95 225.45,404.91 225.70,404.93 225.95,405.00 226.20,404.78 226.45,404.80 226.70,405.06 226.95,405.06 227.20,404.99 227.45,405.19 227.70,405.04 227.95,405.19 228.20,404.81 228.45,405.11 228.70,405.15 228.95,405.21 229.20,404.85 229.45,404.85 229.70,405.21 229.95,404.79 230.20,405.26 230.45,405.19 230.70,404.74 230.95,404.80 231.20,405.09 231.45,404.81 231.70,404.71 231.95,405.15 232.20,404.90 232.45,405.12 232.70,404.72 232.95,404.88 233.20,405.05 233.45,404.65 233.70,404.76 233.95,405.04 234.20,405.18 234.45,405.21 234.70,404.70 234.95,404.93 235.20,405.08 235.45,404.93 235.70,405.04 235.95,404.74 236.20,404.66 236.45,404.68 236.70,404.64 236.95,404.95 237.20,404.92 237.45,404.95 237.70,404.70 237.95,404.72 238.20,404.73 238.45,405.11 238.70,405.20 238.95,405.16 239.20,404.66 239.45,404.64 239.70,405.17 239.95,404.87 240.20,405.05 240.45,404.79 240.70,404.87 240.95,404.90 241.20,404.85 241.45,404.95 241.70,404.59 241.95,405.01 242.20,405.09 242.45,404.69 242.70,404.85 242.95,405.02 243.20,404.82 243.45,404.69 243.70,404.67 243.95,404.88 244.20,404.58 244.45,405.10 244.70,405.05 244.95,404.99 245.20,405.08 245.45,404.94 245.70,404.80 245.95,404.92 246.20,404.86 246.45,405.15 246.70,405.04 246.95,404.71 247.20,405.10 247.45,405.00 247.70,405.01 247.95,405.04 248.20,404.79 248.45,405.08 248.70,405.07 248.95,404.96 249.20,405.00 249.45,405.00 249.70,404.78 249.95,404.97 250.20,404.57 250.45,404.74 250.70,404.81 250.95,404.53 251.20,404.74 251.45,404.91 251.70,404.90 251.95,404.66 252.20,405.09 252.45,404.92 252.70,404.72 252.95,404.91 253.20,404.85 253.45,404.83 253.70,404.74 253.95,405.11 254.20,404.89 254.45,404.93 254.70,404.96 254.95,405.09 255.20,404.51 255.45,404.87 255.70,404.94 255.95,404.65 256.20,404.73 256.45,404.52 256.70,404.61 256.95,404.71 257.20,404.55 257.45,404.64 257.70,405.03 257.95,404.81 258.20,404.78 258.45,405.06 258.70,404.82 258.95,405.07 259.20,404.86 259.45,404.96 259.70,404.52 259.95,404.83 260.20,404.92 260.45,404.49 260.70,405.02 260.95,404.56 261.20,404.74 261.45,404.56 261.70,404.75 261.95,404.82 262.20,404.49 262.45,405.02 262.70,404.70 262.95,404.76 263.20,404.80 263.45,404.66 263.70,404.61 263.95,404.83 264.20,404.77 264.45,404.60 264.70,404.86 264.95,404.60 265.20,404.43 265.45,404.56 265.70,404.43 265.95,404.48 266.20,404.82 266.45,404.56 266.70,404.80 266.95,404.62 267.20,404.07 267.45,404.45 267.70,404.20 267.95,403.41 268.20,403.61 268.45,403.03 268.70,402.81 268.95,402.94 269.20,402.44 269.45,402.67 269.70,403.08 269.95,403.20 270.20,403.33 270.45,403.93 270.70,404.10 270.95,404.20 271.20,404.08 271.45,404.52 271.70,404.51 271.95,404.41 272.20,404.36 272.45,404.66 272.70,404.43 272.95,404.63 273.20,404.77 273.45,404.64 273.70,404.52 273.95,404.72 274.20,404.62 274.45,404.83 274.70,404.68 274.95,404.96 275.20,404.93 275.45,404.80 275.70,404.50 275.95,404.43 276.20,404.89 276.45,404.83 276.70,404.73 276.95,404.57 277.20,404.51 277.45,404.76 277.70,404.69 277.95,404.70 278.20,404.73 278.45,404.80 278.70,404.46 278.95,404.49 279.20,404.93 279.45,404.89 279.70,404.86 279.95,404.36 280.20,404.37 280.45,404.49 280.70,404.58 280.95,404.70 281.20,404.39 281.45,404.65 281.70,404.36 281.95,404.37 282.20,404.72 282.45,404.64 282.70,404.69 282.95,404.53 283.20,404.59 283.45,404.43 283.70,404.51 283.95,404.75 284.20,404.80 284.45,404.34 284.70,404.36 284.95,404.77 285.20,404.66 285.45,404.74 285.70,404.40 285.95,404.52 286.20,404.42 286.45,404.74 286.70,404.47 286.95,404.63 287.20,404.82 287.45,404.41 287.70,404.52 287.95,404.62 288.20,404.71 288.45,404.38 288.70,404.32 288.95,404.12 289.20,404.54 289.45,404.02 289.70,403.97 289.95,404.19 290.20,404.08 290.45,404.12 290.70,403.80 290.95,404.00 291.20,403.47 291.45,403.45 291.70,403.60 291.95,403.13 292.20,403.13 292.45,403.25 292.70,403.09 292.95,402.71 293.20,402.48 293.45,402.48 293.70,402.57 293.95,402.22 294.20,401.96 294.45,402.21 294.70,402.03 294.95,402.17 295.20,402.12 295.45,402.07 295.70,401.76 295.80,401.98 295.95,401.68 296.20,401.71 296.45,401.80 296.70,402.18 296.95,402.23 297.20,401.94 297.45,402.11 297.70,402.22 297.95,402.35 298.20,402.50 298.45,402.62 298.70,402.65 298.95,403.00 299.20,403.28 299.45,403.25 299.70,403.56 299.95,403.51 300.20,403.39 300.45,403.85 300.70,404.02 300.95,403.75 301.20,403.67 301.45,404.04 301.70,404.12 301.95,404.19 302.20,404.48 302.45,404.33 302.70,404.46 302.95,404.05 303.20,404.37 303.45,404.53 303.70,404.13 303.95,404.14 304.20,404.55 304.45,404.66 304.70,404.18 304.95,404.51 305.20,404.22 305.45,404.59 305.70,404.53 305.95,404.29 306.20,404.28 306.45,404.61 306.70,404.46 306.95,404.61 307.20,404.38 307.45,404.35 307.70,404.73 307.95,404.55 308.20,404.44 308.45,404.47 308.70,404.58 308.95,404.57 309.20,404.69 309.45,404.39 309.70,404.63 309.95,404.54 310.20,404.65 310.45,404.62 310.70,404.63 310.95,404.66 311.20,404.70 311.45,404.51 311.70,404.44 311.95,404.55 312.20,404.60 312.45,404.37 312.70,404.37 312.95,404.20 313.20,404.56 313.45,404.70 313.70,404.33 313.95,404.20 314.20,404.22 314.45,404.35 314.70,404.27 314.95,404.67 315.20,404.12 315.45,404.26 315.70,404.14 315.95,404.46 316.20,404.52 316.45,404.16 316.70,404.07 316.95,404.29 317.20,404.33 317.45,404.45 317.70,403.81 317.95,403.64 318.20,403.33 318.45,402.81 318.70,402.06 318.95,401.36 319.20,400.12 319.45,398.68 319.70,397.56 319.95,396.84 320.20,396.49 320.45,397.13 320.70,397.63 320.95,398.87 321.20,400.24 321.45,401.20 321.70,402.06 321.95,403.19 322.20,403.75 322.45,403.75 322.70,404.08 322.95,404.45 323.20,404.23 323.45,404.11 323.70,404.02 323.95,404.57 324.20,404.49 324.45,404.24 324.70,404.33 324.95,404.33 325.20,404.19 325.45,404.62 325.70,404.42 325.95,404.17 326.20,404.03 326.45,404.31 326.70,404.25 326.95,404.50 327.20,404.45 327.45,404.39 327.70,404.12 327.95,404.11 328.20,404.21 328.45,404.17 328.70,404.54 328.95,404.32 329.20,404.40 329.45,404.61 329.70,404.17 329.95,404.33 330.20,404.09 330.45,404.46 330.70,404.00 330.95,404.49 331.20,404.50 331.45,404.48 331.70,404.03 331.95,404.14 332.20,404.40 332.45,404.03 332.70,404.25 332.95,404.24 333.20,404.52 333.45,404.28 333.70,404.43 333.95,404.06 334.20,404.29 334.45,403.94 334.70,404.01 334.95,403.11 335.20,402.89 335.45,401.54 335.70,400.46 335.95,398.94 336.20,397.20 336.45,396.34 336.70,395.35 336.80,395.28 336.95,395.28 337.20,396.24 337.45,397.67 337.70,399.36 337.95,400.61 338.20,402.04 338.45,402.59 338.70,403.37 338.95,403.77 339.20,404.28 339.45,404.30 339.70,404.25 339.95,403.89 340.20,404.12 340.45,404.33 340.70,404.05 340.95,404.26 341.20,404.20 341.45,403.93 341.70,404.52 341.95,404.41 342.20,404.05 342.45,404.30 342.70,404.10 342.95,404.16 343.20,404.25 343.45,404.11 343.70,404.13 343.95,404.17 344.20,404.33 344.45,404.08 344.70,404.05 344.95,404.37 345.20,404.13 345.45,404.49 345.70,404.26 345.95,404.36 346.20,404.12 346.45,404.42 346.70,403.98 346.95,404.01 347.20,403.98 347.45,404.33 347.70,404.34 347.95,404.02 348.20,404.16 348.45,404.42 348.70,404.27 348.95,403.97 349.20,404.05 349.45,404.00 349.70,403.98 349.95,404.15 350.20,403.95 350.45,404.46 350.70,404.16 350.95,404.21 351.20,404.29 351.45,404.36 351.70,404.39 351.95,404.13" fill="none" stroke="#333" stroke-width="1.1" stroke-linejoin="round" />
<polyline points="127.70,383.28 127.95,383.23 128.20,383.11 128.45,383.48 128.70,383.05 128.95,383.29 129.20,383.49 129.45,383.08 129.70,383.32 129.95,383.35 130.20,383.06 130.45,383.23 130.70,383.39 130.95,383.26 131.20,383.40 131.45,383.11 131.70,383.15 131.95,383.09 132.20,383.29 132.45,383.49 132.70,383.33 132.95,383.42 133.20,383.22 133.45,383.40 133.70,383.08 133.95,383.17 134.20,383.36 134.45,383.39 134.70,383.24 134.95,383.07 135.20,383.16 135.45,383.13 135.70,383.16 135.95,383.43 136.20,383.12 136.45,383.46 136.70,383.46 136.95,383.05 137.20,383.21 137.45,383.26 137.70,383.03 137.95,383.23 138.20,383.47 138.45,383.07 138.70,383.31 138.95,383.07 139.20,383.30 139.45,383.46 139.70,383.11 139.95,383.01 140.20,383.05 140.45,383.28 140.70,383.02 140.95,383.05 141.20,383.25 141.45,383.46 141.70,383.21 141.95,383.20 142.20,383.32 142.45,383.05 142.70,383.29 142.95,383.08 143.20,383.30 143.45,383.47 143.70,383.02 143.95,383.27 144.20,383.30 144.45,383.07 144.70,383.12 144.95,383.49 145.20,383.49 145.45,383.05 145.70,383.34 145.95,383.46 146.20,383.10 146.45,383.29 146.70,383.00 146.95,383.16 147.20,383.31 147.45,383.27 147.70,383.36 147.95,383.01 148.20,383.14 148.45,383.39 148.70,383.25 148.95,383.18 149.20,383.15 149.45,383.44 149.70,383.23 149.95,382.95 150.20,383.33 150.45,383.09 150.70,383.14 150.95,383.02 151.20,383.12 151.45,383.05 151.70,382.91 151.95,383.16 152.20,382.85 152.45,383.09 152.70,382.48 152.95,382.35 153.20,381.36 153.45,379.45 153.70,376.95 153.95,373.50 154.20,370.59 154.45,368.33 154.60,367.85 154.70,368.39 154.95,369.88 155.20,372.89 155.45,376.41 155.70,378.92 155.95,380.99 156.20,381.88 156.45,382.80 156.70,382.78 156.95,382.79 157.20,383.30 157.45,382.92 157.70,383.33 157.95,383.36 158.20,383.18 158.45,382.89 158.70,382.92 158.95,383.00 159.20,383.09 159.45,383.20 159.70,383.38 159.95,383.08 160.20,382.97 160.45,383.18 160.70,382.97 160.95,382.94 161.20,383.18 161.45,383.25 161.70,382.93 161.95,383.12 162.20,383.24 162.45,383.27 162.70,383.08 162.95,383.33 163.20,382.96 163.45,383.23 163.70,383.25 163.95,383.30 164.20,383.10 164.45,382.89 164.70,382.86 164.95,383.09 165.20,382.90 165.45,383.11 165.70,382.82 165.95,383.15 166.20,382.84 166.45,382.71 166.70,382.75 166.95,382.84 167.20,382.83 167.45,382.67 167.70,382.46 167.95,382.46 168.20,382.45 168.45,381.67 168.70,379.78 168.95,371.93 169.20,352.81 169.45,317.71 169.70,280.22 169.90,267.71 169.95,268.55 170.20,293.91 170.45,332.81 170.70,362.38 170.95,376.18 171.20,380.63 171.45,382.07 171.70,382.45 171.95,382.33 172.20,382.75 172.45,382.72 172.70,382.81 172.95,382.94 173.20,382.69 173.45,383.00 173.70,382.91 173.95,383.19 174.20,382.88 174.45,383.19 174.70,383.16 174.95,383.12 175.20,383.25 175.45,382.84 175.70,383.13 175.95,383.14 176.20,383.18 176.45,383.05 176.70,382.89 176.95,382.95 177.20,383.16 177.45,382.95 177.70,382.90 177.95,383.04 178.20,383.10 178.45,383.14 178.70,382.88 178.95,383.26 179.20,383.04 179.45,383.27 179.70,382.88 179.95,383.35 180.20,383.17 180.45,383.37 180.70,383.37 180.95,383.29 181.20,382.93 181.45,383.05 181.70,382.99 181.95,383.27 182.20,382.97 182.45,382.99 182.70,382.93 182.95,382.94 183.20,383.35 183.45,383.36 183.70,383.06 183.95,383.25 184.20,383.11 184.45,383.14 184.70,383.06 184.95,383.19 185.20,382.99 185.45,383.00 185.70,383.13 185.95,382.97 186.20,383.09 186.45,383.34 186.70,382.88 186.95,382.91 187.20,383.26 187.45,382.89 187.70,382.98 187.95,383.28 188.20,383.15 188.45,382.96 188.70,382.87 188.95,382.97 189.20,382.98 189.45,383.22 189.70,383.30 189.95,383.19 190.20,383.23 190.45,383.22 190.70,383.15 190.95,383.07 191.20,382.80 191.45,381.60 191.70,380.06 191.95,377.18 192.20,373.59 192.45,370.05 192.70,368.52 192.95,370.22 193.20,373.48 193.45,377.15 193.70,380.04 193.95,381.78 194.20,382.62 194.45,382.89 194.70,382.93 194.95,382.84 195.20,382.97 195.45,382.95 195.70,382.88 195.95,383.08 196.20,382.91 196.45,383.17 196.70,383.15 196.95,382.90 197.20,383.14 197.45,383.00 197.70,383.06 197.95,383.14 198.20,383.22 198.45,383.28 198.70,383.21 198.95,382.95 199.20,383.11 199.45,383.01 199.70,382.85 199.95,383.12 200.20,383.08 200.45,383.27 200.70,383.00 200.95,383.26 201.20,383.10 201.45,382.89 201.70,383.20 201.95,382.98 202.20,383.11 202.45,382.88 202.70,382.85 202.95,383.30 203.20,382.86 203.45,382.91 203.70,382.92 203.95,382.89 204.20,383.25 204.45,383.33 204.70,383.16 204.95,383.03 205.20,383.28 205.45,383.09 205.70,382.90 205.95,383.18 206.20,383.01 206.45,382.97 206.70,382.99 206.95,383.02 207.20,382.92 207.45,383.14 207.70,383.26 207.95,383.12 208.20,382.83 208.45,383.17 208.70,382.84 208.95,383.07 209.20,383.26 209.45,383.17 209.70,383.28 209.95,383.20 210.20,382.96 210.45,382.90 210.70,383.05 210.95,383.16 211.20,382.94 211.45,382.99 211.70,383.20 211.95,382.99 212.20,383.12 212.45,383.09 212.70,383.28 212.95,382.83 213.20,382.91 213.45,383.21 213.70,383.15 213.95,382.86 214.20,382.88 214.45,382.92 214.70,383.09 214.95,383.26 215.20,382.92 215.45,382.91 215.70,383.15 215.95,383.02 216.20,383.23 216.45,383.31 216.70,383.28 216.95,383.17 217.20,383.06 217.45,382.84 217.70,383.21 217.95,383.01 218.20,383.04 218.45,383.12 218.70,383.29 218.95,383.08 219.20,383.26 219.45,383.28 219.70,382.84 219.95,382.98 220.20,383.24 220.45,383.18 220.70,383.28 220.95,382.89 221.20,383.06 221.45,383.26 221.70,383.07 221.95,383.13 222.20,383.28 222.45,382.88 222.70,382.82 222.95,383.22 223.20,383.08 223.45,382.89 223.70,383.21 223.95,382.93 224.20,382.85 224.45,382.94 224.70,382.81 224.95,382.99 225.20,383.18 225.45,383.01 225.70,383.27 225.95,382.81 226.20,382.87 226.45,382.86 226.70,383.07 226.95,382.88 227.20,383.12 227.45,383.04 227.70,383.07 227.95,383.20 228.20,383.17 228.45,383.24 228.70,382.85 228.95,382.97 229.20,383.26 229.45,382.97 229.70,382.92 229.95,383.02 230.20,382.86 230.45,383.20 230.70,383.09 230.95,382.82 231.20,383.25 231.45,383.03 231.70,382.90 231.95,383.08 232.20,383.24 232.45,382.94 232.70,382.77 232.95,382.87 233.20,382.80 233.45,383.03 233.70,382.92 233.95,383.19 234.20,382.87 234.45,382.77 234.70,382.99 234.95,382.82 235.20,382.92 235.45,382.87 235.70,382.85 235.95,383.08 236.20,383.23 236.45,382.94 236.70,383.08 236.95,382.92 237.20,383.21 237.45,383.03 237.70,382.77 237.95,383.12 238.20,382.86 238.45,382.78 238.70,382.76 238.95,383.17 239.20,383.11 239.45,382.93 239.70,383.03 239.95,383.10 240.20,382.79 240.45,383.10 240.70,383.10 240.95,383.22 241.20,382.77 241.45,383.03 241.70,383.00 241.95,383.17 242.20,382.92 242.45,383.07 242.70,383.19 242.95,382.91 243.20,383.00 243.45,383.19 243.70,382.76 243.95,383.22 244.20,382.89 244.45,382.96 244.70,382.88 244.95,383.13 245.20,383.00 245.45,383.11 245.70,382.78 245.95,383.17 246.20,383.14 246.45,383.07 246.70,382.84 246.95,382.86 247.20,382.95 247.45,382.76 247.70,383.20 247.95,382.93 248.20,383.20 248.45,382.82 248.70,383.05 248.95,383.12 249.20,383.05 249.45,382.93 249.70,382.73 249.95,382.94 250.20,382.92 250.45,383.19 250.70,383.21 250.95,383.20 251.20,383.21 251.45,382.80 251.70,382.73 251.95,382.86 252.20,382.72 252.45,382.77 252.70,383.00 252.95,382.81 253.20,383.02 253.45,382.90 253.70,382.85 253.95,383.20 254.20,382.80 254.45,383.15 254.70,382.97 254.95,383.04 255.20,382.78 255.45,383.08 255.70,383.15 255.95,382.80 256.20,382.94 256.45,383.03 256.70,382.94 256.95,383.08 257.20,383.02 257.45,382.86 257.70,383.04 257.95,383.09 258.20,382.93 258.45,382.99 258.70,383.01 258.95,382.93 259.20,382.74 259.45,382.90 259.70,383.08 259.95,383.06 260.20,382.73 260.45,382.93 260.70,382.99 260.95,382.96 261.20,382.76 261.45,383.01 261.70,383.04 261.95,382.96 262.20,383.16 262.45,382.97 262.70,382.69 262.95,382.83 263.20,383.03 263.45,382.72 263.70,383.16 263.95,383.03 264.20,383.06 264.45,382.76 264.70,382.68 264.95,383.11 265.20,382.93 265.45,382.89 265.70,382.93 265.95,383.05 266.20,382.85 266.45,383.05 266.70,382.73 266.95,383.13 267.20,382.95 267.45,382.71 267.70,382.71 267.95,382.80 268.20,382.37 268.45,382.40 268.70,382.35 268.95,382.27 269.20,381.88 269.45,382.18 269.70,382.20 269.95,382.45 270.20,382.24 270.45,382.56 270.70,382.69 270.95,382.95 271.20,382.82 271.45,382.64 271.70,382.74 271.95,383.06 272.20,383.09 272.45,382.94 272.70,382.69 272.95,383.04 273.20,383.09 273.45,382.80 273.70,382.89 273.95,382.80 274.20,382.68 274.45,383.02 274.70,382.73 274.95,382.69 275.20,383.10 275.45,382.70 275.70,383.03 275.95,383.06 276.20,382.77 276.45,382.83 276.70,382.76 276.95,383.00 277.20,383.13 277.45,383.02 277.70,382.89 277.95,382.91 278.20,382.85 278.45,383.00 278.70,382.77 278.95,382.76 279.20,382.99 279.45,382.77 279.70,383.13 279.95,383.00 280.20,382.73 280.45,382.65 280.70,382.93 280.95,382.70 281.20,382.88 281.45,382.93 281.70,383.04 281.95,382.82 282.20,382.90 282.45,383.04 282.70,382.69 282.95,382.79 283.20,383.03 283.45,382.80 283.70,383.09 283.95,382.66 284.20,382.66 284.45,382.80 284.70,382.85 284.95,382.80 285.20,382.73 285.45,382.84 285.70,383.06 285.95,383.08 286.20,382.93 286.45,382.74 286.70,382.90 286.95,382.69 287.20,382.64 287.45,383.00 287.70,382.74 287.95,382.69 288.20,383.01 288.45,382.66 288.70,382.72 288.95,382.67 289.20,383.04 289.45,382.93 289.70,382.68 289.95,382.62 290.20,383.04 290.45,382.64 290.70,382.93 290.95,382.91 291.20,382.85 291.45,382.79 291.70,382.74 291.95,382.65 292.20,382.81 292.45,382.53 292.70,382.65 292.95,382.49 293.20,382.49 293.45,382.68 293.70,382.43 293.95,382.37 294.20,382.25 294.45,381.80 294.70,382.05 294.95,381.93 295.20,381.70 295.45,381.41 295.70,381.40 295.95,381.27 296.20,380.76 296.45,380.55 296.70,380.50 296.95,380.22 297.20,380.24 297.45,380.11 297.70,380.05 297.95,380.27 298.20,380.12 298.45,380.45 298.70,380.75 298.95,380.82 299.20,380.64 299.45,381.15 299.70,381.06 299.95,381.54 300.20,381.64 300.45,381.75 300.70,381.86 300.95,382.27 301.20,382.01 301.45,382.47 301.70,382.23 301.95,382.25 302.20,382.39 302.45,382.36 302.70,382.80 302.95,382.52 303.20,382.74 303.45,382.62 303.70,382.68 303.95,382.90 304.20,382.80 304.45,382.66 304.70,382.91 304.95,382.61 305.20,382.56 305.45,382.89 305.70,382.97 305.95,382.93 306.20,382.90 306.45,383.02 306.70,383.01 306.95,382.83 307.20,382.64 307.45,382.84 307.70,382.76 307.95,382.90 308.20,382.73 308.45,382.59 308.70,382.65 308.95,382.62 309.20,382.92 309.45,382.89 309.70,382.82 309.95,382.71 310.20,382.91 310.45,382.77 310.70,382.79 310.95,382.64 311.20,383.04 311.45,382.77 311.70,382.78 311.95,382.65 312.20,382.77 312.45,382.78 312.70,382.75 312.95,382.91 313.20,382.71 313.45,382.85 313.70,382.87 313.95,382.60 314.20,382.95 314.45,382.57 314.70,382.66 314.95,382.95 315.20,382.59 315.45,382.67 315.70,382.73 315.95,383.00 316.20,383.01 316.45,382.63 316.70,382.83 316.95,382.92 317.20,382.76 317.45,382.65 317.70,382.55 317.95,382.47 318.20,382.37 318.45,382.21 318.70,382.27 318.95,381.75 319.20,380.86 319.45,380.55 319.70,379.82 319.95,378.97 320.20,378.73 320.45,379.20 320.70,379.66 320.95,380.45 321.20,380.92 321.45,381.81 321.70,382.12 321.95,382.21 322.20,382.36 322.45,382.55 322.70,382.58 322.95,382.61 323.20,382.94 323.45,382.69 323.70,382.60 323.95,382.55 324.20,382.53 324.45,382.70 324.70,382.71 324.95,382.54 325.20,382.76 325.45,382.68 325.70,382.51 325.95,382.74 326.20,382.58 326.45,382.59 326.70,382.88 326.95,382.72 327.20,382.68 327.45,382.78 327.70,382.87 327.95,382.82 328.20,382.98 328.45,382.86 328.70,382.67 328.95,382.98 329.20,382.51 329.45,382.59 329.70,382.56 329.95,382.69 330.20,382.67 330.45,382.69 330.70,382.81 330.95,382.66 331.20,382.73 331.45,382.82 331.70,382.95 331.95,382.96 332.20,382.66 332.45,382.67 332.70,382.97 332.95,382.89 333.20,382.90 333.45,382.51 333.70,382.59 333.95,382.65 334.20,382.58 334.45,382.64 334.70,382.85 334.95,382.49 335.20,382.32 335.45,381.57 335.70,380.18 335.95,377.49 336.20,373.93 336.45,371.20 336.60,371.02 336.70,371.30 336.95,373.36 337.20,376.67 337.45,379.49 337.70,381.49 337.95,382.26 338.20,382.73 338.45,382.70 338.70,382.68 338.95,382.71 339.20,382.88 339.45,382.89 339.70,382.52 339.95,382.50 340.20,382.51 340.45,382.46 340.70,382.88 340.95,382.94 341.20,382.71 341.45,382.84 341.70,382.79 341.95,382.79 342.20,382.66 342.45,382.94 342.70,382.62 342.95,382.51 343.20,382.49 343.45,382.86 343.70,382.85 343.95,382.89 344.20,382.86 344.45,382.58 344.70,382.64 344.95,382.60 345.20,382.89 345.45,382.46 345.70,382.61 345.95,382.79 346.20,382.78 346.45,382.46 346.70,382.52 346.95,382.54 347.20,382.57 347.45,382.71 347.70,382.47 347.95,382.87 348.20,382.69 348.45,382.78 348.70,382.64 348.95,382.88 349.20,382.51 349.45,382.89 349.70,382.58 349.95,382.71 350.20,382.73 350.45,382.79 350.70,382.72 350.95,382.81 351.20,382.47 351.45,382.72 351.70,382.70 351.95,382.76" fill="none" stroke="#ff5a5a" stroke-width="1.2" stroke-linejoin="round" />
<polyline points="127.70,351.08 127.95,351.17 128.20,351.20 128.45,351.30 128.70,351.16 128.95,351.29 129.20,350.66 129.45,350.96 129.70,351.30 129.95,351.09 130.20,351.26 130.45,350.71 130.70,350.96 130.95,350.80 131.20,351.01 131.45,351.03 131.70,350.63 131.95,350.77 132.20,350.81 132.45,351.26 132.70,351.15 132.95,350.73 133.20,351.17 133.45,350.71 133.70,351.04 133.95,350.70 134.20,350.61 134.45,351.21 134.70,350.75 134.95,350.75 135.20,351.29 135.45,351.21 135.70,350.80 135.95,351.27 136.20,350.97 136.45,351.07 136.70,350.73 136.95,351.25 137.20,351.07 137.45,351.26 137.70,351.21 137.95,350.79 138.20,350.83 138.45,350.69 138.70,350.68 138.95,350.62 139.20,350.78 139.45,350.99 139.70,350.57 139.95,351.04 140.20,350.80 140.45,350.78 140.70,351.14 140.95,350.90 141.20,350.78 141.45,350.89 141.70,351.05 141.95,350.59 142.20,351.24 142.45,350.57 142.70,351.07 142.95,351.14 143.20,350.56 143.45,351.10 143.70,350.80 143.95,350.95 144.20,350.55 144.45,350.57 144.70,350.66 144.95,351.20 145.20,350.67 145.45,351.06 145.70,351.18 145.95,351.18 146.20,350.76 146.45,350.77 146.70,350.89 146.95,351.06 147.20,350.59 147.45,351.04 147.70,351.07 147.95,351.11 148.20,350.53 148.45,351.17 148.70,350.56 148.95,350.74 149.20,350.92 149.45,351.13 149.70,350.73 149.95,351.13 150.20,350.86 150.45,350.69 150.70,350.69 150.95,350.59 151.20,350.51 151.45,350.54 151.70,350.89 151.95,351.05 152.20,350.37 152.45,350.11 152.70,350.48 152.95,349.74 153.20,349.10 153.45,348.33 153.70,347.92 153.95,347.54 154.20,346.99 154.30,346.93 154.45,346.74 154.70,347.69 154.95,347.65 155.20,348.63 155.45,349.51 155.70,349.54 155.95,350.35 156.20,350.76 156.45,350.69 156.70,350.88 156.95,350.45 157.20,350.70 157.45,350.51 157.70,351.00 157.95,350.62 158.20,350.73 158.45,351.12 158.70,351.01 158.95,351.10 159.20,350.73 159.45,350.75 159.70,350.92 159.95,350.74 160.20,350.61 160.45,350.69 160.70,350.51 160.95,350.66 161.20,351.09 161.45,351.07 161.70,350.83 161.95,350.74 162.20,350.62 162.45,350.44 162.70,350.57 162.95,350.92 163.20,350.97 163.45,350.61 163.70,350.90 163.95,350.89 164.20,350.82 164.45,350.79 164.70,350.85 164.95,350.56 165.20,350.79 165.45,350.48 165.70,350.61 165.95,350.79 166.20,350.71 166.45,350.41 166.70,350.83 166.95,350.58 167.20,350.49 167.45,350.02 167.70,350.32 167.95,350.00 168.20,350.14 168.45,349.73 168.70,349.27 168.95,346.52 169.20,337.74 169.45,315.50 169.70,279.87 169.95,246.73 170.10,239.83 170.20,242.65 170.45,272.29 170.70,309.57 170.95,334.51 171.20,345.66 171.45,349.06 171.70,349.66 171.95,349.98 172.20,349.89 172.45,350.47 172.70,350.63 172.95,350.37 173.20,350.56 173.45,350.62 173.70,350.66 173.95,350.29 174.20,350.74 174.45,350.62 174.70,350.69 174.95,350.53 175.20,350.68 175.45,350.79 175.70,350.70 175.95,350.77 176.20,350.29 176.45,350.39 176.70,350.59 176.95,350.73 177.20,350.44 177.45,350.76 177.70,350.73 177.95,350.32 178.20,350.62 178.45,350.45 178.70,350.33 178.95,350.38 179.20,350.51 179.45,350.42 179.70,350.42 179.95,350.31 180.20,350.61 180.45,350.55 180.70,350.72 180.95,350.70 181.20,350.45 181.45,350.92 181.70,350.29 181.95,350.57 182.20,350.48 182.45,350.57 182.70,350.36 182.95,350.86 183.20,350.54 183.45,350.30 183.70,350.70 183.95,350.34 184.20,350.65 184.45,350.51 184.70,350.67 184.95,350.94 185.20,350.84 185.45,350.55 185.70,350.83 185.95,350.71 186.20,350.51 186.45,350.35 186.70,350.67 186.95,350.64 187.20,350.91 187.45,350.92 187.70,350.66 187.95,350.48 188.20,350.85 188.45,350.22 188.70,350.29 188.95,350.60 189.20,350.63 189.45,350.29 189.70,350.62 189.95,350.79 190.20,350.41 190.45,350.43 190.70,350.26 190.95,350.27 191.20,350.68 191.45,350.10 191.70,350.05 191.95,348.83 192.20,346.03 192.45,341.33 192.70,335.95 192.95,330.18 193.20,327.84 193.45,330.05 193.70,335.95 193.95,341.49 194.20,345.80 194.45,348.51 194.70,349.44 194.95,350.25 195.20,350.29 195.45,350.25 195.70,350.62 195.95,350.68 196.20,350.13 196.45,350.50 196.70,350.33 196.95,350.80 197.20,350.70 197.45,350.33 197.70,350.35 197.95,350.27 198.20,350.86 198.45,350.38 198.70,350.60 198.95,350.51 199.20,350.63 199.45,350.60 199.70,350.70 199.95,350.26 200.20,350.71 200.45,350.39 200.70,350.55 200.95,350.41 201.20,350.38 201.45,350.54 201.70,350.50 201.95,350.42 202.20,350.69 202.45,350.58 202.70,350.19 202.95,350.34 203.20,350.49 203.45,350.81 203.70,350.79 203.95,350.55 204.20,350.17 204.45,350.71 204.70,350.46 204.95,350.56 205.20,350.65 205.45,350.60 205.70,350.49 205.95,350.79 206.20,350.42 206.45,350.43 206.70,350.75 206.95,350.29 207.20,350.35 207.45,350.73 207.70,350.19 207.95,350.73 208.20,350.63 208.45,350.44 208.70,350.34 208.95,350.68 209.20,350.77 209.45,350.23 209.70,350.47 209.95,350.52 210.20,350.48 210.45,350.36 210.70,350.23 210.95,350.54 211.20,350.69 211.45,350.17 211.70,350.28 211.95,350.69 212.20,350.67 212.45,350.58 212.70,350.13 212.95,350.62 213.20,350.80 213.45,350.81 213.70,350.60 213.95,350.14 214.20,350.70 214.45,350.26 214.70,350.56 214.95,350.77 215.20,350.60 215.45,350.19 215.70,350.30 215.95,350.74 216.20,350.20 216.45,350.52 216.70,350.38 216.95,350.20 217.20,350.52 217.45,350.12 217.70,350.16 217.95,350.35 218.20,350.13 218.45,350.12 218.70,350.48 218.95,350.60 219.20,350.69 219.45,350.17 219.70,350.38 219.95,350.29 220.20,350.49 220.45,350.41 220.70,350.72 220.95,350.33 221.20,350.10 221.45,350.55 221.70,350.17 221.95,350.50 222.20,350.41 222.45,350.69 222.70,350.44 222.95,350.49 223.20,350.24 223.45,350.44 223.70,350.23 223.95,350.57 224.20,350.41 224.45,350.14 224.70,350.21 224.95,350.30 225.20,350.56 225.45,350.16 225.70,350.54 225.95,350.49 226.20,350.09 226.45,350.50 226.70,350.09 226.95,350.12 227.20,350.44 227.45,350.19 227.70,350.64 227.95,350.36 228.20,350.25 228.45,350.58 228.70,350.04 228.95,350.52 229.20,350.05 229.45,350.12 229.70,350.68 229.95,350.49 230.20,350.16 230.45,350.09 230.70,350.69 230.95,350.47 231.20,350.58 231.45,350.10 231.70,350.44 231.95,350.25 232.20,350.16 232.45,350.23 232.70,350.42 232.95,350.24 233.20,350.26 233.45,350.08 233.70,350.57 233.95,350.44 234.20,350.55 234.45,350.29 234.70,350.58 234.95,350.34 235.20,350.39 235.45,350.38 235.70,350.49 235.95,350.25 236.20,350.04 236.45,349.99 236.70,350.11 236.95,349.99 237.20,350.59 237.45,350.30 237.70,350.49 237.95,349.96 238.20,350.29 238.45,350.58 238.70,350.39 238.95,350.25 239.20,350.28 239.45,350.02 239.70,350.06 239.95,350.06 240.20,350.21 240.45,350.21 240.70,350.56 240.95,350.05 241.20,350.12 241.45,350.13 241.70,350.05 241.95,350.14 242.20,350.10 242.45,350.27 242.70,349.95 242.95,350.58 243.20,350.19 243.45,350.58 243.70,350.41 243.95,350.39 244.20,350.25 244.45,350.58 244.70,350.00 244.95,350.38 245.20,350.12 245.45,350.39 245.70,350.42 245.95,350.02 246.20,350.05 246.45,349.92 246.70,350.07 246.95,349.96 247.20,350.18 247.45,350.58 247.70,350.15 247.95,350.12 248.20,350.22 248.45,350.09 248.70,350.41 248.95,350.39 249.20,350.00 249.45,350.06 249.70,350.36 249.95,350.54 250.20,350.34 250.45,350.18 250.70,350.56 250.95,349.88 251.20,349.92 251.45,350.42 251.70,350.16 251.95,349.90 252.20,350.26 252.45,350.56 252.70,350.23 252.95,350.11 253.20,349.93 253.45,349.91 253.70,350.49 253.95,350.20 254.20,350.51 254.45,349.89 254.70,350.03 254.95,349.89 255.20,350.13 255.45,349.89 255.70,350.03 255.95,350.13 256.20,350.06 256.45,349.88 256.70,349.87 256.95,350.52 257.20,349.96 257.45,350.19 257.70,350.12 257.95,350.21 258.20,349.89 258.45,350.05 258.70,349.90 258.95,350.21 259.20,350.47 259.45,350.24 259.70,350.42 259.95,349.97 260.20,349.83 260.45,350.19 260.70,350.16 260.95,350.21 261.20,350.07 261.45,350.25 261.70,350.32 261.95,350.44 262.20,350.02 262.45,350.12 262.70,350.38 262.95,349.95 263.20,349.88 263.45,350.01 263.70,349.85 263.95,350.33 264.20,350.36 264.45,350.00 264.70,349.87 264.95,349.83 265.20,349.94 265.45,349.82 265.70,350.05 265.95,350.14 266.20,349.89 266.45,349.72 266.70,350.10 266.95,349.55 267.20,349.52 267.45,349.39 267.70,349.21 267.95,348.73 268.20,348.65 268.45,348.27 268.70,348.32 268.95,348.00 269.20,348.18 269.45,348.07 269.70,348.32 269.95,348.45 270.20,348.65 270.45,349.22 270.70,349.39 270.95,349.84 271.20,349.86 271.45,349.98 271.70,349.77 271.95,350.21 272.20,349.95 272.45,349.79 272.70,349.76 272.95,349.84 273.20,349.90 273.45,350.19 273.70,349.92 273.95,349.77 274.20,350.26 274.45,350.11 274.70,349.74 274.95,349.76 275.20,349.81 275.45,349.97 275.70,350.32 275.95,350.38 276.20,350.14 276.45,349.88 276.70,350.01 276.95,349.97 277.20,349.94 277.45,349.72 277.70,350.12 277.95,350.29 278.20,350.21 278.45,349.77 278.70,350.07 278.95,349.82 279.20,350.20 279.45,350.01 279.70,350.35 279.95,350.25 280.20,349.78 280.45,349.92 280.70,350.33 280.95,350.01 281.20,349.99 281.45,350.00 281.70,350.22 281.95,350.34 282.20,350.06 282.45,350.36 282.70,350.10 282.95,349.75 283.20,350.25 283.45,349.97 283.70,349.71 283.95,350.36 284.20,349.69 284.45,350.07 284.70,350.01 284.95,350.28 285.20,349.94 285.45,349.81 285.70,349.86 285.95,349.80 286.20,350.05 286.45,349.91 286.70,350.18 286.95,349.82 287.20,349.90 287.45,349.82 287.70,350.34 287.95,350.24 288.20,350.24 288.45,350.08 288.70,349.92 288.95,349.74 289.20,350.22 289.45,349.98 289.70,349.66 289.95,349.75 290.20,349.70 290.45,350.13 290.70,350.26 290.95,349.77 291.20,350.19 291.45,349.85 291.70,350.10 291.95,350.23 292.20,350.06 292.45,350.18 292.70,349.88 292.95,349.62 293.20,349.97 293.45,350.02 293.70,349.74 293.95,349.88 294.20,349.83 294.45,349.63 294.70,349.82 294.95,349.87 295.20,349.94 295.45,350.09 295.70,349.88 295.95,350.29 296.20,350.17 296.45,350.24 296.70,350.08 296.95,350.06 297.20,349.97 297.45,350.15 297.70,349.84 297.95,350.00 298.20,350.06 298.45,349.95 298.70,349.78 298.95,349.63 299.20,349.64 299.45,349.83 299.70,349.98 299.95,350.10 300.20,350.07 300.45,349.78 300.70,350.22 300.95,349.76 301.20,350.07 301.45,349.61 301.70,350.09 301.95,350.03 302.20,350.23 302.45,350.18 302.70,350.04 302.95,350.14 303.20,350.07 303.45,349.98 303.70,349.69 303.95,349.91 304.20,350.17 304.45,349.71 304.70,350.22 304.95,349.92 305.20,349.81 305.45,349.54 305.70,349.81 305.95,349.66 306.20,349.99 306.45,350.16 306.70,350.17 306.95,349.96 307.20,349.80 307.45,349.60 307.70,350.00 307.95,349.91 308.20,350.02 308.45,349.78 308.70,350.14 308.95,349.66 309.20,349.73 309.45,349.70 309.70,349.94 309.95,350.13 310.20,349.62 310.45,349.94 310.70,350.04 310.95,349.66 311.20,349.54 311.45,349.89 311.70,350.07 311.95,350.10 312.20,350.00 312.45,349.78 312.70,349.78 312.95,349.85 313.20,350.11 313.45,349.69 313.70,349.67 313.95,349.89 314.20,350.14 314.45,349.59 314.70,349.48 314.95,349.54 315.20,349.85 315.45,349.87 315.70,349.57 315.95,349.57 316.20,349.85 316.45,349.88 316.70,349.90 316.95,349.92 317.20,349.44 317.45,349.72 317.70,349.95 317.95,350.00 318.20,349.51 318.45,349.76 318.70,349.30 318.95,348.65 319.20,346.35 319.45,343.53 319.70,339.48 319.95,335.39 320.20,333.52 320.45,335.19 320.70,338.99 320.95,343.10 321.20,346.28 321.45,348.42 321.70,348.90 321.95,349.68 322.20,349.78 322.45,349.88 322.70,349.89 322.95,349.84 323.20,350.00 323.45,350.03 323.70,349.81 323.95,350.05 324.20,349.45 324.45,349.46 324.70,349.43 324.95,349.53 325.20,349.65 325.45,349.71 325.70,349.87 325.95,349.91 326.20,349.45 326.45,349.67 326.70,349.77 326.95,349.65 327.20,349.47 327.45,349.80 327.70,349.65 327.95,349.86 328.20,349.73 328.45,350.06 328.70,350.04 328.95,349.43 329.20,349.91 329.45,349.88 329.70,349.58 329.95,349.45 330.20,349.71 330.45,349.62 330.70,349.88 330.95,350.01 331.20,349.63 331.45,349.56 331.70,349.71 331.95,349.84 332.20,349.90 332.45,349.75 332.70,349.55 332.95,349.58 333.20,349.93 333.45,349.70 333.70,349.36 333.95,349.62 334.20,349.48 334.45,349.77 334.70,349.34 334.95,349.46 335.20,349.31 335.45,349.50 335.70,349.66 335.95,348.82 336.20,347.58 336.45,346.00 336.70,342.81 336.95,340.60 337.20,339.91 337.45,340.35 337.70,343.28 337.95,345.59 338.20,347.31 338.45,348.60 338.70,349.27 338.95,349.42 339.20,349.58 339.45,349.28 339.70,349.41 339.95,349.95 340.20,349.59 340.45,349.61 340.70,349.35 340.95,349.48 341.20,349.96 341.45,349.77 341.70,349.65 341.95,349.33 342.20,349.57 342.45,349.84 342.70,349.60 342.95,349.71 343.20,349.92 343.45,349.74 343.70,349.74 343.95,349.32 344.20,349.31 344.45,349.83 344.70,349.58 344.95,349.90 345.20,349.86 345.45,349.92 345.70,349.55 345.95,349.98 346.20,349.81 346.45,349.90 346.70,349.38 346.95,349.82 347.20,349.57 347.45,349.95 347.70,349.97 347.95,349.42 348.20,349.56 348.45,349.46 348.70,349.60 348.95,349.47 349.20,349.73 349.45,349.35 349.70,349.38 349.95,349.58 350.20,349.31 350.45,349.52 350.70,349.88 350.95,349.87 351.20,349.39 351.45,349.26 351.70,349.83 351.95,349.92" fill="none" stroke="#ff28ff" stroke-width="1.2" stroke-linejoin="round" />
<polyline points="127.70,366.79 127.95,366.69 128.20,366.99 128.45,366.64 128.70,366.92 128.95,366.81 129.20,366.63 129.45,366.90 129.70,366.62 129.95,366.85 130.20,366.63 130.45,366.65 130.70,366.84 130.95,367.09 131.20,366.66 131.45,366.72 131.70,366.96 131.95,367.16 132.20,366.93 132.45,366.82 132.70,367.17 132.95,366.61 133.20,367.10 133.45,366.76 133.70,366.67 133.95,366.65 134.20,366.77 134.45,367.07 134.70,366.69 134.95,366.93 135.20,366.96 135.45,366.80 135.70,366.91 135.95,366.61 136.20,366.61 136.45,366.70 136.70,366.98 136.95,366.83 137.20,366.76 137.45,366.92 137.70,366.84 137.95,366.75 138.20,367.05 138.45,366.99 138.70,366.72 138.95,366.91 139.20,366.88 139.45,367.09 139.70,367.00 139.95,366.74 140.20,367.15 140.45,366.64 140.70,366.82 140.95,367.02 141.20,366.65 141.45,366.86 141.70,366.59 141.95,366.96 142.20,367.02 142.45,366.90 142.70,367.08 142.95,366.75 143.20,366.97 143.45,366.91 143.70,366.90 143.95,366.83 144.20,367.06 144.45,367.12 144.70,366.84 144.95,366.95 145.20,366.59 145.45,366.97 145.70,366.94 145.95,367.14 146.20,367.04 146.45,366.72 146.70,366.77 146.95,366.94 147.20,366.55 147.45,366.82 147.70,366.64 147.95,366.61 148.20,366.57 148.45,366.99 148.70,366.61 148.95,366.68 149.20,366.76 149.45,367.05 149.70,366.57 149.95,366.79 150.20,366.85 150.45,367.05 150.70,367.00 150.95,367.03 151.20,366.67 151.45,366.75 151.70,366.71 151.95,367.01 152.20,367.05 152.45,366.54 152.70,366.52 152.95,366.48 153.20,366.35 153.45,366.25 153.70,365.89 153.95,365.06 154.20,364.02 154.45,363.18 154.70,361.98 154.95,361.04 155.20,360.55 155.40,360.20 155.45,360.11 155.70,360.58 155.95,361.49 156.20,362.25 156.45,363.92 156.70,364.86 156.95,365.70 157.20,366.19 157.45,366.29 157.70,366.49 157.95,366.42 158.20,366.79 158.45,366.47 158.70,366.49 158.95,366.58 159.20,366.56 159.45,366.67 159.70,366.50 159.95,366.47 160.20,366.56 160.45,366.53 160.70,366.69 160.95,366.49 161.20,366.99 161.45,366.84 161.70,366.56 161.95,366.62 162.20,366.67 162.45,366.68 162.70,366.53 162.95,366.96 163.20,367.05 163.45,366.73 163.70,366.73 163.95,366.49 164.20,366.49 164.45,366.63 164.70,366.57 164.95,366.90 165.20,366.49 165.45,366.39 165.70,366.93 165.95,366.66 166.20,366.41 166.45,366.63 166.70,366.28 166.95,366.55 167.20,366.77 167.45,366.64 167.70,366.45 167.95,366.08 168.20,365.99 168.45,365.60 168.70,365.24 168.95,362.43 169.20,353.54 169.45,330.98 169.70,294.48 169.95,261.07 170.10,254.09 170.20,257.22 170.45,286.98 170.70,324.87 170.95,350.32 171.20,361.15 171.45,364.80 171.70,365.62 171.95,365.74 172.20,365.91 172.45,366.17 172.70,366.25 172.95,366.57 173.20,366.78 173.45,366.52 173.70,366.84 173.95,366.90 174.20,366.90 174.45,366.56 174.70,366.49 174.95,366.51 175.20,366.50 175.45,366.51 175.70,366.77 175.95,366.95 176.20,366.92 176.45,366.71 176.70,366.81 176.95,366.91 177.20,366.48 177.45,366.83 177.70,366.98 177.95,366.91 178.20,366.89 178.45,366.73 178.70,366.55 178.95,366.92 179.20,366.65 179.45,366.93 179.70,367.03 179.95,366.69 180.20,366.69 180.45,367.02 180.70,366.89 180.95,366.55 181.20,366.53 181.45,366.54 181.70,367.00 181.95,366.94 182.20,366.54 182.45,366.95 182.70,367.04 182.95,366.85 183.20,366.66 183.45,366.78 183.70,366.53 183.95,366.46 184.20,367.04 184.45,366.84 184.70,366.77 184.95,367.01 185.20,366.71 185.45,366.97 185.70,366.95 185.95,366.58 186.20,366.60 186.45,366.62 186.70,366.59 186.95,366.80 187.20,366.60 187.45,366.69 187.70,366.52 187.95,366.98 188.20,366.65 188.45,366.71 188.70,366.78 188.95,366.97 189.20,366.68 189.45,366.97 189.70,366.72 189.95,366.73 190.20,366.72 190.45,366.41 190.70,366.65 190.95,366.49 191.20,366.36 191.45,366.81 191.70,366.38 191.95,366.42 192.20,366.17 192.45,365.10 192.70,363.03 192.95,360.13 193.20,356.65 193.45,354.16 193.60,353.26 193.70,353.76 193.95,355.81 194.20,359.29 194.45,362.77 194.70,364.77 194.95,365.93 195.20,366.53 195.45,366.80 195.70,366.59 195.95,366.72 196.20,366.67 196.45,366.68 196.70,366.80 196.95,366.66 197.20,366.72 197.45,366.69 197.70,366.97 197.95,366.83 198.20,366.94 198.45,366.98 198.70,366.57 198.95,366.75 199.20,366.99 199.45,366.92 199.70,366.50 199.95,366.49 200.20,366.69 200.45,366.47 200.70,366.57 200.95,366.47 201.20,366.82 201.45,366.89 201.70,366.96 201.95,366.52 202.20,366.85 202.45,366.82 202.70,366.51 202.95,366.95 203.20,367.00 203.45,366.55 203.70,366.99 203.95,366.66 204.20,366.71 204.45,367.02 204.70,366.92 204.95,366.52 205.20,366.68 205.45,366.73 205.70,366.62 205.95,366.54 206.20,366.61 206.45,366.85 206.70,366.43 206.95,366.75 207.20,366.68 207.45,366.43 207.70,366.62 207.95,366.79 208.20,366.72 208.45,366.45 208.70,367.01 208.95,366.89 209.20,367.00 209.45,366.48 209.70,366.57 209.95,366.44 210.20,366.88 210.45,366.57 210.70,366.49 210.95,366.66 211.20,366.96 211.45,366.90 211.70,366.56 211.95,366.50 212.20,366.96 212.45,366.75 212.70,366.83 212.95,366.46 213.20,366.44 213.45,366.82 213.70,366.66 213.95,366.45 214.20,366.97 214.45,366.78 214.70,366.88 214.95,366.45 215.20,366.92 215.45,366.44 215.70,366.92 215.95,366.67 216.20,366.60 216.45,366.73 216.70,366.95 216.95,366.56 217.20,366.48 217.45,366.71 217.70,366.54 217.95,366.46 218.20,366.49 218.45,366.43 218.70,366.52 218.95,366.58 219.20,366.58 219.45,366.85 219.70,366.57 219.95,366.69 220.20,366.50 220.45,366.60 220.70,366.40 220.95,366.54 221.20,366.40 221.45,366.83 221.70,366.72 221.95,366.50 222.20,366.67 222.45,366.95 222.70,366.45 222.95,366.88 223.20,366.64 223.45,366.68 223.70,366.88 223.95,366.62 224.20,366.69 224.45,366.80 224.70,366.97 224.95,366.59 225.20,366.88 225.45,366.80 225.70,366.76 225.95,366.62 226.20,366.59 226.45,366.41 226.70,366.46 226.95,366.42 227.20,366.82 227.45,366.53 227.70,366.47 227.95,366.43 228.20,366.88 228.45,366.90 228.70,366.78 228.95,366.54 229.20,366.52 229.45,366.55 229.70,366.65 229.95,366.47 230.20,366.64 230.45,366.53 230.70,366.95 230.95,366.95 231.20,366.70 231.45,366.51 231.70,366.95 231.95,366.55 232.20,366.58 232.45,366.37 232.70,366.59 232.95,366.65 233.20,366.67 233.45,366.48 233.70,366.67 233.95,366.36 234.20,366.52 234.45,366.41 234.70,366.60 234.95,366.38 235.20,366.37 235.45,366.54 235.70,366.50 235.95,366.71 236.20,366.67 236.45,366.81 236.70,366.75 236.95,366.78 237.20,366.88 237.45,366.59 237.70,366.55 237.95,366.94 238.20,366.44 238.45,366.79 238.70,366.74 238.95,366.38 239.20,366.85 239.45,366.88 239.70,366.73 239.95,366.79 240.20,366.84 240.45,366.43 240.70,366.66 240.95,366.65 241.20,366.85 241.45,366.83 241.70,366.84 241.95,366.69 242.20,366.88 242.45,366.75 242.70,366.76 242.95,366.48 243.20,366.36 243.45,366.42 243.70,366.56 243.95,366.40 244.20,366.84 244.45,366.67 244.70,366.71 244.95,366.71 245.20,366.75 245.45,366.63 245.70,366.34 245.95,366.81 246.20,366.78 246.45,366.64 246.70,366.65 246.95,366.73 247.20,366.37 247.45,366.77 247.70,366.48 247.95,366.38 248.20,366.49 248.45,366.77 248.70,366.45 248.95,366.77 249.20,366.91 249.45,366.62 249.70,366.56 249.95,366.61 250.20,366.74 250.45,366.79 250.70,366.69 250.95,366.71 251.20,366.37 251.45,366.41 251.70,366.47 251.95,366.77 252.20,366.50 252.45,366.66 252.70,366.33 252.95,366.36 253.20,366.48 253.45,366.72 253.70,366.73 253.95,366.72 254.20,366.49 254.45,366.63 254.70,366.59 254.95,366.59 255.20,366.39 255.45,366.85 255.70,366.43 255.95,366.90 256.20,366.87 256.45,366.32 256.70,366.59 256.95,366.80 257.20,366.89 257.45,366.58 257.70,366.47 257.95,366.43 258.20,366.87 258.45,366.43 258.70,366.65 258.95,366.39 259.20,366.62 259.45,366.88 259.70,366.38 259.95,366.80 260.20,366.61 260.45,366.83 260.70,366.72 260.95,366.44 261.20,366.84 261.45,366.59 261.70,366.31 261.95,366.30 262.20,366.59 262.45,366.57 262.70,366.48 262.95,366.38 263.20,366.50 263.45,366.48 263.70,366.80 263.95,366.29 264.20,366.74 264.45,366.79 264.70,366.36 264.95,366.84 265.20,366.71 265.45,366.83 265.70,366.46 265.95,366.51 266.20,366.52 266.45,366.88 266.70,366.63 266.95,366.48 267.20,366.50 267.45,366.38 267.70,366.19 267.95,366.14 268.20,366.45 268.45,365.94 268.70,366.12 268.95,365.48 269.20,365.30 269.45,365.33 269.60,365.11 269.70,365.23 269.95,365.68 270.20,365.82 270.45,365.99 270.70,366.10 270.95,366.46 271.20,366.61 271.45,366.47 271.70,366.63 271.95,366.26 272.20,366.69 272.45,366.53 272.70,366.71 272.95,366.65 273.20,366.44 273.45,366.30 273.70,366.82 273.95,366.34 274.20,366.55 274.45,366.47 274.70,366.44 274.95,366.71 275.20,366.85 275.45,366.42 275.70,366.66 275.95,366.45 276.20,366.60 276.45,366.50 276.70,366.36 276.95,366.36 277.20,366.39 277.45,366.81 277.70,366.56 277.95,366.39 278.20,366.80 278.45,366.86 278.70,366.53 278.95,366.34 279.20,366.37 279.45,366.31 279.70,366.46 279.95,366.31 280.20,366.40 280.45,366.41 280.70,366.60 280.95,366.79 281.20,366.70 281.45,366.50 281.70,366.50 281.95,366.57 282.20,366.48 282.45,366.45 282.70,366.29 282.95,366.42 283.20,366.83 283.45,366.32 283.70,366.55 283.95,366.63 284.20,366.77 284.45,366.38 284.70,366.41 284.95,366.39 285.20,366.48 285.45,366.51 285.70,366.82 285.95,366.75 286.20,366.77 286.45,366.25 286.70,366.26 286.95,366.67 287.20,366.78 287.45,366.52 287.70,366.59 287.95,366.24 288.20,366.47 288.45,366.79 288.70,366.73 288.95,366.75 289.20,366.81 289.45,366.38 289.70,366.29 289.95,366.32 290.20,366.54 290.45,366.63 290.70,366.78 290.95,366.65 291.20,366.59 291.45,366.65 291.70,366.46 291.95,366.50 292.20,366.17 292.45,366.59 292.70,366.22 292.95,366.59 293.20,366.37 293.45,366.11 293.70,365.93 293.95,365.93 294.20,366.08 294.45,366.04 294.70,365.61 294.95,365.51 295.20,365.72 295.45,365.70 295.70,365.55 295.95,365.43 296.00,365.66 296.20,365.31 296.45,365.51 296.70,365.65 296.95,366.01 297.20,365.89 297.45,366.11 297.70,365.95 297.95,365.88 298.20,365.97 298.45,366.46 298.70,366.37 298.95,366.19 299.20,366.06 299.45,366.39 299.70,366.52 299.95,366.39 300.20,366.31 300.45,366.57 300.70,366.74 300.95,366.32 301.20,366.21 301.45,366.40 301.70,366.45 301.95,366.61 302.20,366.32 302.45,366.68 302.70,366.64 302.95,366.50 303.20,366.32 303.45,366.78 303.70,366.39 303.95,366.69 304.20,366.34 304.45,366.33 304.70,366.65 304.95,366.38 305.20,366.77 305.45,366.49 305.70,366.31 305.95,366.33 306.20,366.45 306.45,366.59 306.70,366.76 306.95,366.28 307.20,366.43 307.45,366.32 307.70,366.78 307.95,366.28 308.20,366.22 308.45,366.23 308.70,366.43 308.95,366.73 309.20,366.72 309.45,366.63 309.70,366.79 309.95,366.75 310.20,366.38 310.45,366.30 310.70,366.75 310.95,366.63 311.20,366.20 311.45,366.58 311.70,366.41 311.95,366.41 312.20,366.38 312.45,366.28 312.70,366.18 312.95,366.35 313.20,366.39 313.45,366.75 313.70,366.25 313.95,366.75 314.20,366.30 314.45,366.38 314.70,366.66 314.95,366.66 315.20,366.42 315.45,366.19 315.70,366.44 315.95,366.38 316.20,366.71 316.45,366.27 316.70,366.37 316.95,366.68 317.20,366.15 317.45,366.37 317.70,366.59 317.95,366.51 318.20,365.98 318.45,365.78 318.70,365.46 318.95,365.43 319.20,364.29 319.45,363.68 319.70,362.88 319.95,361.86 320.20,361.56 320.45,362.23 320.70,362.71 320.95,363.39 321.20,364.56 321.45,365.07 321.70,365.58 321.95,365.75 322.20,366.40 322.45,366.59 322.70,366.47 322.95,366.68 323.20,366.14 323.45,366.27 323.70,366.42 323.95,366.71 324.20,366.71 324.45,366.37 324.70,366.29 324.95,366.40 325.20,366.44 325.45,366.70 325.70,366.25 325.95,366.62 326.20,366.59 326.45,366.64 326.70,366.61 326.95,366.51 327.20,366.34 327.45,366.34 327.70,366.36 327.95,366.61 328.20,366.19 328.45,366.26 328.70,366.59 328.95,366.29 329.20,366.18 329.45,366.16 329.70,366.47 329.95,366.33 330.20,366.73 330.45,366.67 330.70,366.73 330.95,366.29 331.20,366.18 331.45,366.19 331.70,366.43 331.95,366.56 332.20,366.40 332.45,366.27 332.70,366.37 332.95,366.49 333.20,366.52 333.45,366.57 333.70,366.62 333.95,366.51 334.20,366.18 334.45,366.60 334.70,366.27 334.95,366.42 335.20,366.29 335.45,366.49 335.70,366.13 335.95,366.05 336.20,365.73 336.45,364.83 336.70,363.52 336.95,360.61 337.20,357.51 337.45,355.89 337.50,356.19 337.70,356.71 337.95,359.18 338.20,362.48 338.45,364.55 338.70,365.92 338.95,365.87 339.20,366.26 339.45,366.52 339.70,366.56 339.95,366.61 340.20,366.10 340.45,366.26 340.70,366.16 340.95,366.21 341.20,366.68 341.45,366.45 341.70,366.66 341.95,366.33 342.20,366.62 342.45,366.37 342.70,366.26 342.95,366.57 343.20,366.67 343.45,366.17 343.70,366.47 343.95,366.48 344.20,366.24 344.45,366.33 344.70,366.19 344.95,366.23 345.20,366.26 345.45,366.47 345.70,366.50 345.95,366.23 346.20,366.11 346.45,366.30 346.70,366.51 346.95,366.22 347.20,366.29 347.45,366.23 347.70,366.58 347.95,366.43 348.20,366.14 348.45,366.17 348.70,366.34 348.95,366.43 349.20,366.49 349.45,366.16 349.70,366.20 349.95,366.52 350.20,366.35 350.45,366.27 350.70,366.28 350.95,366.67 351.20,366.29 351.45,366.44 351.70,366.31 351.95,366.35" fill="none" stroke="#3030e0" stroke-width="1.2" stroke-linejoin="round" stroke-opacity="0.75"/>
<line x1="126.7" y1="235.9" x2="126.7" y2="413.1" stroke="#555" stroke-width="1.2"/>
<line x1="126.2" y1="412.6" x2="352.6" y2="412.6" stroke="#555" stroke-width="1.2"/>
<line x1="126.7" y1="412.6" x2="126.7" y2="415.6" stroke="#555" stroke-width="1"/>
<line x1="158.9" y1="412.6" x2="158.9" y2="415.6" stroke="#555" stroke-width="1"/>
<line x1="191.10000000000002" y1="412.6" x2="191.10000000000002" y2="415.6" stroke="#555" stroke-width="1"/>
<line x1="223.3" y1="412.6" x2="223.3" y2="415.6" stroke="#555" stroke-width="1"/>
<line x1="255.5" y1="412.6" x2="255.5" y2="415.6" stroke="#555" stroke-width="1"/>
<line x1="287.7" y1="412.6" x2="287.7" y2="415.6" stroke="#555" stroke-width="1"/>
<line x1="319.90000000000003" y1="412.6" x2="319.90000000000003" y2="415.6" stroke="#555" stroke-width="1"/>
<line x1="352.1" y1="412.6" x2="352.1" y2="415.6" stroke="#555" stroke-width="1"/>
<line x1="125.2" y1="406.2" x2="126.7" y2="406.2" stroke="#555" stroke-width="0.9"/>
<line x1="125.2" y1="377.8" x2="126.7" y2="377.8" stroke="#555" stroke-width="0.9"/>
<line x1="125.2" y1="349.4" x2="126.7" y2="349.4" stroke="#555" stroke-width="0.9"/>
<line x1="125.2" y1="321.0" x2="126.7" y2="321.0" stroke="#555" stroke-width="0.9"/>
<line x1="125.2" y1="292.6" x2="126.7" y2="292.6" stroke="#555" stroke-width="0.9"/>
<line x1="125.2" y1="264.2" x2="126.7" y2="264.2" stroke="#555" stroke-width="0.9"/>
<line x1="125.2" y1="235.8" x2="126.7" y2="235.8" stroke="#555" stroke-width="0.9"/>
<text x="158.9" y="423.0" font-family="'Liberation Sans', Arial, sans-serif" font-size="8" text-anchor="middle" fill="#1a1a1a" font-weight="normal" stroke="#1a1a1a" stroke-width="0.3" >40</text>
<text x="223.3" y="423.0" font-family="'Liberation Sans', Arial, sans-serif" font-size="8" text-anchor="middle" fill="#1a1a1a" font-weight="normal" stroke="#1a1a1a" stroke-width="0.3" >60</text>
<text x="287.7" y="423.0" font-family="'Liberation Sans', Arial, sans-serif" font-size="8" text-anchor="middle" fill="#1a1a1a" font-weight="normal" stroke="#1a1a1a" stroke-width="0.3" >80</text>
<text x="352.1" y="423.0" font-family="'Liberation Sans', Arial, sans-serif" font-size="8" text-anchor="middle" fill="#1a1a1a" font-weight="normal" stroke="#1a1a1a" stroke-width="0.3" >100</text>
<text x="249.0" y="431.2" font-family="'Liberation Sans', Arial, sans-serif" font-size="8.5" text-anchor="middle" fill="#1a1a1a" font-weight="normal" stroke="#1a1a1a" stroke-width="0.3" >2Θ</text>
<text x="112.1" y="240.9" font-family="'Liberation Serif', 'Times New Roman', serif" font-size="13.6" text-anchor="middle" fill="#111" font-weight="normal" stroke="#111" stroke-width="0.45" >(c)</text>
<text x="332.3" y="251.4" font-family="'Liberation Serif', 'Times New Roman', serif" font-size="8.2" text-anchor="middle" fill="#333" font-weight="normal" stroke="#333" stroke-width="0.3" letter-spacing="0.15">η = 5.74</text>
<text transform="translate(112.08,335) rotate(-90)" font-size="8" fill="#1a1a1a"><tspan font-family="'Liberation Sans', Arial, sans-serif" font-weight="bold">Intensity,</tspan><tspan font-family="'Liberation Serif', 'Times New Roman', serif" font-size="7.5"> (a.u.)</tspan></text>
<text transform="translate(155.56,344.70) rotate(-90)" font-family="'Liberation Sans', Arial, sans-serif" font-size="8.0" fill="#1a1a1a" font-weight="normal" stroke="#1a1a1a" stroke-width="0.3">(110)Nb</text>
<text transform="translate(165.36,262.80) rotate(-90)" font-family="'Liberation Sans', Arial, sans-serif" font-size="8.0" fill="#1a1a1a" font-weight="normal" stroke="#1a1a1a" stroke-width="0.3">(111)Cu</text>
<text transform="translate(194.16,323.00) rotate(-90)" font-family="'Liberation Sans', Arial, sans-serif" font-size="8.0" fill="#1a1a1a" font-weight="normal" stroke="#1a1a1a" stroke-width="0.3">(200)Cu</text>
<text transform="translate(271.26,343.60) rotate(-90)" font-family="'Liberation Sans', Arial, sans-serif" font-size="8.0" fill="#1a1a1a" font-weight="normal" stroke="#1a1a1a" stroke-width="0.3">(220)Cu</text>
<text transform="translate(297.96,342.80) rotate(-90)" font-family="'Liberation Sans', Arial, sans-serif" font-size="8.0" fill="#1a1a1a" font-weight="normal" stroke="#1a1a1a" stroke-width="0.3"><tspan font-family="'DejaVu Sans', sans-serif" stroke-width="0.1">←</tspan>(220)Nb</text>
<text transform="translate(321.16,327.60) rotate(-90)" font-family="'Liberation Sans', Arial, sans-serif" font-size="8.0" fill="#1a1a1a" font-weight="normal" stroke="#1a1a1a" stroke-width="0.3">(311)Cu</text>
<text transform="translate(336.86,335.60) rotate(-90)" font-family="'Liberation Sans', Arial, sans-serif" font-size="8.0" fill="#1a1a1a" font-weight="normal" stroke="#1a1a1a" stroke-width="0.3">(222)Cu</text>
<text fill="#222" stroke="#222" stroke-width="0.2"><tspan x="344.6" y="345.5" font-family="'Liberation Sans', Arial, sans-serif" font-size="9.2">800</tspan><tspan x="361.6" y="343.7" font-family="'Liberation Sans', Arial, sans-serif" font-size="6.2">°</tspan><tspan x="364.2" y="345.5" font-family="'Liberation Sans', Arial, sans-serif" font-size="9.2">C</tspan><tspan x="372.8" y="345.5" font-family="'Liberation Serif', 'Times New Roman', serif" font-size="10.3">,</tspan><tspan x="376.6" y="345.5" font-family="'Liberation Serif', 'Times New Roman', serif" font-size="10.3">1h</tspan></text>
<text fill="#222" stroke="#222" stroke-width="0.2"><tspan x="345.0" y="361.7" font-family="'Liberation Sans', Arial, sans-serif" font-size="9.2">700</tspan><tspan x="362.4" y="359.9" font-family="'Liberation Sans', Arial, sans-serif" font-size="6.2">°</tspan><tspan x="364.2" y="361.7" font-family="'Liberation Sans', Arial, sans-serif" font-size="9.2">C</tspan><tspan x="371.7" y="361.7" font-family="'Liberation Serif', 'Times New Roman', serif" font-size="10.3">,</tspan><tspan x="374.7" y="361.7" font-family="'Liberation Serif', 'Times New Roman', serif" font-size="10.3">1h</tspan></text>
<text fill="#222" stroke="#222" stroke-width="0.2"><tspan x="345.5" y="379.8" font-family="'Liberation Sans', Arial, sans-serif" font-size="9.2">550</tspan><tspan x="362.9" y="378.0" font-family="'Liberation Sans', Arial, sans-serif" font-size="6.2">°</tspan><tspan x="365.1" y="379.8" font-family="'Liberation Sans', Arial, sans-serif" font-size="9.2">C</tspan><tspan x="372.1" y="379.8" font-family="'Liberation Serif', 'Times New Roman', serif" font-size="10.3">,</tspan><tspan x="376.0" y="379.8" font-family="'Liberation Serif', 'Times New Roman', serif" font-size="10.3">1h</tspan></text>
<text fill="#222" stroke="#222" stroke-width="0.2"><tspan x="351.1" y="399.4" font-family="'Liberation Sans', Arial, sans-serif" font-size="9.2">20</tspan><tspan x="363.3" y="397.59999999999997" font-family="'Liberation Sans', Arial, sans-serif" font-size="6.2">°</tspan><tspan x="365.9" y="399.4" font-family="'Liberation Sans', Arial, sans-serif" font-size="9.2">C</tspan></text>
</svg>
</body></html>
